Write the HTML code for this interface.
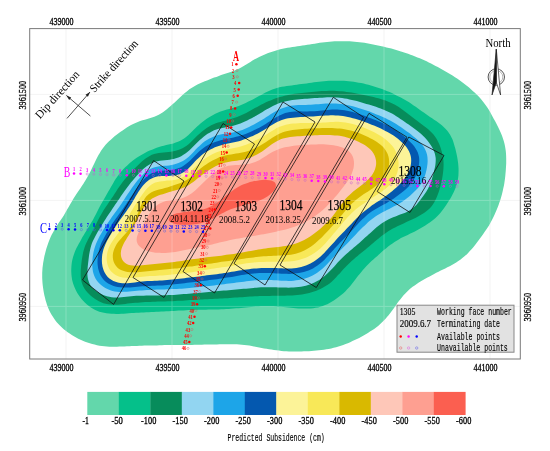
<!DOCTYPE html>
<html><head><meta charset="utf-8"><title>Predicted Subsidence</title>
<style>html,body{margin:0;padding:0;background:#fff}svg{display:block}.s{font-family:"Liberation Serif",serif}.m{font-family:"Liberation Mono",monospace}</style></head><body>
<svg width="550" height="451" viewBox="0 0 550 451">
<rect width="550" height="451" fill="#fff"/>
<g stroke="#f1f1f1" stroke-width="1">
<line x1="66" y1="29" x2="66" y2="359"/>
<line x1="172" y1="29" x2="172" y2="359"/>
<line x1="278" y1="29" x2="278" y2="359"/>
<line x1="384" y1="29" x2="384" y2="359"/>
<line x1="490" y1="29" x2="490" y2="359"/>
<line x1="30" y1="94.4" x2="520" y2="94.4"/>
<line x1="30" y1="200.4" x2="520" y2="200.4"/>
<line x1="30" y1="306.4" x2="520" y2="306.4"/>
</g>
<defs><clipPath id="cp"><rect x="30" y="29" width="490" height="330"/></clipPath></defs>
<g clip-path="url(#cp)">
<path d="M42.2 273.1C42.3 271.4 42.4 269.8 42.5 268.1C42.7 266.5 42.9 264.8 43.1 263.2C43.4 261.5 43.7 259.9 44 258.3C44.3 256.6 44.7 255 45.1 253.4C45.5 251.8 45.9 250.2 46.4 248.6C46.9 247 47.4 245.4 48 243.8C48.5 242.3 49.1 240.7 49.7 239.2C50.4 237.6 51.1 236.1 51.8 234.6C52.6 233.2 53.4 231.7 54.2 230.3C55 228.8 55.9 227.4 56.8 226C57.7 224.6 58.6 223.2 59.5 221.8C60.5 220.5 61.4 219.1 62.3 217.7C63.2 216.3 64.1 214.9 64.9 213.4C65.8 212 66.6 210.6 67.4 209.1C68.3 207.7 69.1 206.2 69.9 204.8C70.7 203.3 71.5 201.9 72.4 200.4C73.3 199 74.1 197.6 75 196.2C76 194.8 76.9 193.4 77.8 192C78.7 190.7 79.7 189.3 80.6 187.9C81.5 186.5 82.5 185.1 83.4 183.7C84.3 182.3 85.2 180.9 86 179.5C86.9 178 87.7 176.6 88.5 175.1C89.3 173.7 90 172.2 90.8 170.7C91.5 169.2 92.2 167.7 92.9 166.2C93.7 164.7 94.4 163.2 95.1 161.7C95.8 160.2 96.5 158.7 97.3 157.2C98.1 155.7 98.9 154.3 99.8 152.9C100.6 151.5 101.5 150.1 102.5 148.7C103.5 147.4 104.5 146.1 105.6 144.8C106.7 143.6 107.8 142.4 109 141.2C110.2 140.1 111.4 139 112.7 137.9C113.9 136.8 115.2 135.8 116.6 134.8C117.9 133.7 119.2 132.7 120.6 131.8C121.9 130.8 123.3 129.8 124.7 128.9C126.1 128 127.5 127.1 128.9 126.3C130.3 125.4 131.8 124.6 133.2 123.9C134.7 123.2 136.2 122.5 137.8 121.9C139.3 121.3 140.9 120.8 142.5 120.3C144 119.8 145.7 119.4 147.2 118.9C148.8 118.5 150.4 118.1 152 117.5C153.5 117 155.1 116.5 156.6 115.8C158.1 115.1 159.5 114.3 160.9 113.5C162.3 112.6 163.6 111.7 164.9 110.7C166.2 109.7 167.5 108.6 168.8 107.5C170 106.5 171.3 105.4 172.5 104.2C173.8 103.1 175 102 176.2 100.9C177.4 99.7 178.6 98.6 179.9 97.4C181.1 96.3 182.3 95.2 183.6 94.1C184.8 93 186.1 92 187.4 90.9C188.7 89.9 190.1 89 191.5 88.1C192.9 87.2 194.3 86.4 195.7 85.6C197.2 84.8 198.7 84 200.2 83.3C201.7 82.6 203.2 82 204.8 81.3C206.3 80.6 207.8 80 209.4 79.4C211 78.8 212.5 78.2 214.1 77.6C215.6 77.1 217.2 76.5 218.8 75.9C220.4 75.4 221.9 74.9 223.5 74.3C225.1 73.8 226.7 73.3 228.3 72.8C229.8 72.3 231.4 71.8 233 71.2C234.5 70.6 236.1 70 237.6 69.3C239.1 68.6 240.5 67.9 242 67.1C243.4 66.3 244.8 65.4 246.2 64.5C247.6 63.7 249 62.7 250.4 61.9C251.8 61 253.2 60.1 254.7 59.3C256.1 58.5 257.6 57.7 259.1 56.9C260.6 56.2 262.1 55.5 263.6 54.9C265.1 54.2 266.7 53.6 268.2 53C269.8 52.4 271.4 51.9 273 51.4C274.6 50.8 276.1 50.4 277.8 49.9C279.4 49.5 281 49.1 282.6 48.7C284.2 48.4 285.9 48 287.5 47.7C289.1 47.4 290.8 47.2 292.4 46.9C294.1 46.7 295.7 46.5 297.4 46.2C299 46 300.7 45.8 302.3 45.5C304 45.3 305.6 45.1 307.3 44.8C308.9 44.5 310.6 44.3 312.2 44C313.9 43.7 315.5 43.5 317.2 43.2C318.8 43 320.5 42.7 322.1 42.5C323.8 42.3 325.4 42.1 327.1 42C328.7 41.8 330.4 41.7 332.1 41.5C333.7 41.4 335.4 41.3 337.1 41.3C338.7 41.2 340.4 41.2 342.1 41.2C343.7 41.2 345.4 41.2 347.1 41.2C348.7 41.3 350.4 41.3 352.1 41.5C353.7 41.6 355.4 41.7 357 41.9C358.7 42.1 360.3 42.3 362 42.5C363.6 42.7 365.3 43 366.9 43.3C368.6 43.6 370.2 43.9 371.9 44.2C373.5 44.5 375.1 44.9 376.8 45.2C378.4 45.6 380 45.9 381.6 46.3C383.3 46.7 384.9 47 386.5 47.4C388.1 47.8 389.8 48.2 391.4 48.6C393 49.1 394.6 49.5 396.2 50C397.8 50.5 399.4 50.9 401 51.5C402.6 52 404.1 52.5 405.7 53C407.3 53.5 408.9 54.1 410.5 54.7C412 55.2 413.6 55.8 415.1 56.4C416.7 57 418.2 57.6 419.8 58.3C421.3 58.9 422.8 59.6 424.3 60.3C425.9 61 427.4 61.7 428.8 62.5C430.3 63.2 431.8 64 433.3 64.7C434.8 65.5 436.3 66.3 437.8 67C439.2 67.8 440.7 68.6 442.1 69.5C443.6 70.3 445 71.1 446.5 72C447.9 72.8 449.3 73.7 450.8 74.5C452.2 75.4 453.6 76.3 455 77.2C456.4 78.1 457.8 79 459.2 80C460.5 80.9 461.9 81.9 463.2 82.9C464.5 83.9 465.8 84.9 467.1 86C468.4 87 469.7 88.1 470.9 89.2C472.2 90.3 473.4 91.4 474.6 92.6C475.8 93.7 477 94.9 478.2 96.1C479.3 97.3 480.4 98.6 481.5 99.8C482.6 101.1 483.6 102.4 484.6 103.7C485.6 105 486.6 106.4 487.5 107.8C488.4 109.2 489.2 110.6 490.1 112C490.9 113.5 491.7 114.9 492.5 116.4C493.3 117.8 494.1 119.3 494.9 120.8C495.7 122.3 496.5 123.7 497.2 125.2C498 126.7 498.7 128.2 499.4 129.7C500.1 131.2 500.8 132.7 501.4 134.3C502 135.8 502.6 137.4 503.1 139C503.6 140.5 504.1 142.1 504.5 143.7C504.9 145.3 505.2 147 505.4 148.6C505.7 150.2 505.9 151.9 506 153.5C506.1 155.2 506.2 156.8 506.2 158.5C506.2 160.2 506.2 161.8 506.2 163.5C506.1 165.2 506 166.8 505.9 168.5C505.8 170.2 505.7 171.8 505.5 173.5C505.4 175.1 505.2 176.8 505 178.5C504.8 180.1 504.5 181.8 504.3 183.4C504 185 503.7 186.7 503.3 188.3C503 189.9 502.6 191.6 502.2 193.2C501.8 194.8 501.3 196.4 500.9 198C500.4 199.6 499.9 201.2 499.3 202.7C498.8 204.3 498.2 205.9 497.6 207.4C497 209 496.4 210.5 495.7 212.1C495.1 213.6 494.4 215.1 493.7 216.6C493 218.1 492.2 219.6 491.4 221.1C490.6 222.5 489.8 224 489 225.4C488.1 226.8 487.2 228.2 486.3 229.6C485.4 231 484.4 232.4 483.4 233.7C482.5 235.1 481.5 236.4 480.5 237.8C479.5 239.1 478.5 240.5 477.5 241.8C476.5 243.1 475.5 244.5 474.5 245.8C473.4 247.1 472.4 248.3 471.3 249.6C470.2 250.8 469 252.1 467.9 253.2C466.7 254.4 465.5 255.5 464.2 256.6C463 257.7 461.7 258.7 460.3 259.7C459 260.6 457.6 261.5 456.2 262.4C454.8 263.3 453.3 264.1 451.9 264.9C450.4 265.7 448.9 266.5 447.4 267.2C446 268 444.5 268.7 443 269.5C441.5 270.2 440 271 438.5 271.8C437 272.5 435.5 273.3 434.1 274C432.6 274.8 431.1 275.6 429.6 276.4C428.2 277.1 426.7 277.9 425.2 278.8C423.8 279.6 422.3 280.4 420.9 281.3C419.5 282.1 418.1 283 416.7 283.9C415.3 284.9 414 285.8 412.6 286.8C411.3 287.8 410.1 288.9 408.8 290C407.6 291.1 406.4 292.3 405.3 293.5C404.1 294.7 403 295.9 402 297.2C400.9 298.5 399.9 299.8 398.9 301.1C397.9 302.5 396.9 303.8 396 305.2C395 306.5 394.1 307.9 393.1 309.3C392.1 310.6 391.1 312 390.1 313.3C389.1 314.6 388.1 315.9 387 317.1C385.9 318.4 384.8 319.6 383.6 320.8C382.4 322 381.2 323.1 380 324.2C378.7 325.3 377.5 326.4 376.1 327.4C374.8 328.4 373.5 329.4 372.1 330.3C370.7 331.2 369.3 332.1 367.9 333C366.5 333.9 365 334.7 363.6 335.5C362.1 336.3 360.6 337.1 359.2 337.9C357.7 338.6 356.2 339.4 354.7 340.1C353.2 340.8 351.7 341.5 350.2 342.2C348.6 342.9 347.1 343.5 345.6 344.1C344 344.7 342.4 345.3 340.9 345.8C339.3 346.4 337.7 346.8 336.1 347.3C334.5 347.7 332.9 348.1 331.2 348.4C329.6 348.8 328 349.1 326.3 349.3C324.7 349.6 323 349.8 321.4 350.1C319.7 350.3 318.1 350.5 316.4 350.6C314.7 350.8 313.1 350.9 311.4 351C309.8 351.2 308.1 351.3 306.4 351.3C304.8 351.4 303.1 351.4 301.4 351.5C299.8 351.5 298.1 351.5 296.4 351.5C294.8 351.5 293.1 351.5 291.4 351.4C289.8 351.4 288.1 351.3 286.4 351.2C284.8 351.1 283.1 351 281.4 350.9C279.8 350.7 278.1 350.5 276.5 350.3C274.8 350.1 273.2 349.9 271.5 349.6C269.9 349.4 268.2 349.1 266.6 348.8C264.9 348.5 263.3 348.2 261.7 347.9C260 347.6 258.4 347.3 256.7 347C255.1 346.7 253.5 346.4 251.8 346.1C250.2 345.8 248.5 345.5 246.9 345.3C245.2 345.1 243.6 344.8 241.9 344.7C240.3 344.5 238.6 344.4 236.9 344.3C235.3 344.2 233.6 344.2 232 344.2C230.3 344.1 228.6 344.1 227 344.2C225.3 344.2 223.6 344.2 221.9 344.3C220.3 344.3 218.6 344.3 216.9 344.4C215.3 344.4 213.6 344.5 211.9 344.5C210.3 344.6 208.6 344.6 206.9 344.6C205.3 344.7 203.6 344.7 201.9 344.8C200.3 344.8 198.6 344.8 196.9 344.8C195.3 344.9 193.6 344.9 191.9 344.9C190.2 344.9 188.6 345 186.9 345C185.2 345 183.6 345 181.9 345C180.2 345 178.6 345 176.9 345C175.2 345 173.6 345 171.9 345.1C170.2 345.1 168.6 345.1 166.9 345.1C165.2 345.2 163.5 345.2 161.9 345.3C160.2 345.3 158.5 345.3 156.9 345.4C155.2 345.4 153.5 345.5 151.9 345.5C150.2 345.6 148.5 345.6 146.9 345.6C145.2 345.7 143.5 345.7 141.9 345.8C140.2 345.8 138.5 345.9 136.9 345.9C135.2 346 133.5 346 131.8 346.1C130.2 346.2 128.5 346.3 126.9 346.3C125.2 346.4 123.5 346.5 121.9 346.6C120.2 346.7 118.5 346.7 116.9 346.8C115.2 346.8 113.5 346.8 111.9 346.8C110.2 346.8 108.5 346.7 106.9 346.6C105.2 346.5 103.6 346.3 101.9 346.1C100.3 345.9 98.7 345.6 97 345.2C95.4 344.9 93.8 344.5 92.2 344.1C90.6 343.6 89 343.1 87.4 342.6C85.9 342 84.3 341.4 82.8 340.8C81.3 340.1 79.8 339.4 78.3 338.7C76.8 337.9 75.3 337.1 73.9 336.3C72.5 335.4 71.1 334.6 69.7 333.6C68.3 332.7 67 331.7 65.7 330.7C64.4 329.7 63.1 328.6 61.9 327.5C60.7 326.4 59.5 325.2 58.4 324C57.3 322.8 56.2 321.5 55.2 320.2C54.2 318.9 53.2 317.5 52.4 316.1C51.5 314.7 50.7 313.3 49.9 311.8C49.2 310.4 48.5 308.8 47.9 307.3C47.3 305.8 46.8 304.2 46.3 302.6C45.8 301 45.3 299.4 45 297.8C44.6 296.2 44.2 294.6 43.9 292.9C43.6 291.3 43.3 289.7 43.1 288C42.8 286.4 42.7 284.7 42.5 283C42.4 281.4 42.3 279.7 42.2 278.1C42.2 276.4 42.2 274.8 42.2 273.1Z" fill="#63D7AB"/>
<path d="M71.9 262.1C72.2 260.5 72.5 258.9 73 257.3C73.4 255.8 73.9 254.2 74.5 252.7C75.1 251.1 75.8 249.6 76.5 248.1C77.2 246.7 78 245.2 78.8 243.7C79.6 242.3 80.4 240.8 81.2 239.4C82.1 237.9 82.9 236.5 83.8 235.1C84.7 233.6 85.5 232.2 86.4 230.8C87.3 229.4 88.2 228 89 226.6C89.9 225.1 90.7 223.7 91.5 222.3C92.4 220.8 93.2 219.4 93.9 217.9C94.7 216.4 95.5 214.9 96.3 213.5C97 212 97.8 210.5 98.5 209C99.3 207.5 100.1 206.1 100.9 204.6C101.7 203.1 102.5 201.7 103.3 200.2C104.1 198.8 105 197.4 105.8 195.9C106.6 194.5 107.5 193.1 108.3 191.6C109.2 190.2 110 188.7 110.8 187.3C111.6 185.9 112.4 184.4 113.3 183C114.1 181.5 114.9 180.1 115.8 178.7C116.7 177.4 117.7 176 118.7 174.7C119.7 173.4 120.7 172.1 121.8 170.9C122.9 169.7 124.1 168.5 125.2 167.3C126.4 166.1 127.6 165 128.8 163.9C130.1 162.8 131.3 161.7 132.6 160.7C133.9 159.7 135.3 158.7 136.7 157.8C138 156.9 139.5 156 140.9 155.2C142.3 154.3 143.8 153.5 145.3 152.8C146.7 152 148.2 151.3 149.7 150.6C151.3 149.9 152.8 149.3 154.3 148.7C155.9 148.1 157.5 147.6 159 147.1C160.6 146.6 162.2 146.2 163.8 145.8C165.4 145.4 167 145 168.6 144.6C170.2 144.2 171.9 143.8 173.4 143.4C175 142.9 176.5 142.4 178 141.8C179.5 141.1 181 140.4 182.4 139.6C183.8 138.8 185.1 137.8 186.4 136.8C187.6 135.8 188.8 134.6 190 133.5C191.2 132.4 192.4 131.2 193.5 130C194.7 128.8 195.9 127.7 197.1 126.5C198.3 125.4 199.5 124.3 200.8 123.2C202.1 122.2 203.4 121.1 204.7 120.2C206 119.2 207.4 118.2 208.8 117.4C210.2 116.5 211.6 115.6 213.1 114.9C214.6 114.1 216 113.4 217.6 112.8C219.1 112.1 220.6 111.6 222.2 111C223.8 110.5 225.3 110.1 226.9 109.6C228.5 109.1 230.1 108.7 231.7 108.2C233.3 107.7 234.9 107.3 236.5 106.7C238 106.2 239.6 105.6 241.1 105C242.6 104.3 244.2 103.7 245.7 103C247.2 102.3 248.7 101.5 250.1 100.8C251.6 100 253.1 99.2 254.6 98.4C256 97.7 257.5 96.8 259 96C260.4 95.3 261.9 94.4 263.3 93.7C264.8 92.9 266.3 92.1 267.8 91.4C269.3 90.7 270.8 90.1 272.3 89.5C273.9 88.9 275.5 88.4 277 88C278.6 87.5 280.2 87.2 281.9 86.8C283.5 86.5 285.1 86.3 286.8 86C288.4 85.8 290.1 85.6 291.7 85.4C293.4 85.1 295 85 296.7 84.8C298.3 84.5 300 84.3 301.6 84.1C303.3 83.9 304.9 83.7 306.6 83.5C308.2 83.2 309.9 83 311.5 82.8C313.2 82.5 314.8 82.3 316.5 82.1C318.1 81.9 319.8 81.7 321.4 81.5C323.1 81.3 324.8 81.2 326.4 81.1C328.1 80.9 329.7 80.8 331.4 80.8C333.1 80.7 334.7 80.7 336.4 80.7C338 80.7 339.7 80.7 341.4 80.8C343 80.8 344.7 80.9 346.3 81C348 81.2 349.7 81.3 351.3 81.5C353 81.7 354.6 81.9 356.2 82.2C357.9 82.5 359.5 82.8 361.2 83.1C362.8 83.4 364.4 83.8 366 84.2C367.6 84.6 369.3 85 370.9 85.5C372.5 85.9 374.1 86.4 375.6 86.9C377.2 87.4 378.8 87.9 380.4 88.5C381.9 89 383.5 89.6 385 90.2C386.6 90.8 388.1 91.5 389.6 92.1C391.2 92.8 392.7 93.5 394.2 94.2C395.7 95 397.2 95.7 398.6 96.5C400.1 97.2 401.6 98 403 98.8C404.5 99.6 405.9 100.5 407.4 101.3C408.8 102.2 410.2 103.1 411.6 104C413 104.9 414.3 105.9 415.7 106.8C417 107.8 418.4 108.7 419.7 109.7C421.1 110.7 422.5 111.6 423.8 112.6C425.2 113.6 426.5 114.5 427.9 115.4C429.3 116.4 430.7 117.3 432.1 118.2C433.4 119.2 434.8 120.1 436.2 121.1C437.5 122 438.9 123 440.2 124C441.5 125 442.7 126.1 443.9 127.2C445.1 128.3 446.3 129.5 447.3 130.8C448.3 132 449.2 133.4 450.1 134.7C450.9 136.1 451.6 137.6 452.3 139.1C452.9 140.6 453.4 142.1 453.9 143.7C454.4 145.3 454.8 146.9 455.3 148.5C455.7 150.1 456.1 151.7 456.4 153.3C456.8 155 457.1 156.6 457.4 158.2C457.7 159.8 457.9 161.5 458.1 163.1C458.3 164.8 458.4 166.4 458.5 168.1C458.6 169.7 458.6 171.4 458.5 173C458.5 174.7 458.4 176.3 458.1 177.9C457.9 179.6 457.6 181.2 457.2 182.8C456.8 184.3 456.3 185.9 455.7 187.4C455.1 189 454.5 190.5 453.8 192C453 193.5 452.3 194.9 451.5 196.4C450.7 197.8 449.8 199.3 448.9 200.7C448.1 202.1 447.2 203.5 446.2 204.9C445.3 206.3 444.4 207.6 443.4 209C442.4 210.3 441.4 211.6 440.3 212.9C439.3 214.1 438.2 215.3 437 216.5C435.8 217.7 434.6 218.7 433.4 219.8C432.1 220.8 430.8 221.8 429.4 222.8C428.1 223.7 426.7 224.6 425.3 225.5C423.9 226.4 422.4 227.2 421 228C419.5 228.9 418.1 229.6 416.6 230.4C415.1 231.2 413.6 231.9 412.1 232.7C410.7 233.4 409.1 234.1 407.7 234.9C406.2 235.6 404.7 236.3 403.2 237.1C401.7 237.8 400.2 238.6 398.8 239.4C397.4 240.3 395.9 241.1 394.5 242C393.2 242.9 391.8 243.9 390.5 244.8C389.1 245.8 387.8 246.9 386.5 247.9C385.2 248.9 384 250 382.7 251.1C381.5 252.2 380.2 253.3 378.9 254.4C377.7 255.5 376.5 256.6 375.2 257.7C374 258.8 372.7 259.9 371.5 261.1C370.3 262.2 369.1 263.4 368 264.6C366.8 265.7 365.7 267 364.5 268.2C363.4 269.4 362.3 270.7 361.3 271.9C360.2 273.2 359.1 274.5 358.1 275.8C357.1 277.1 356.1 278.5 355.1 279.8C354.1 281.1 353.1 282.4 352 283.7C351 285 350 286.3 348.9 287.6C347.8 288.8 346.6 290 345.5 291.2C344.3 292.3 343.1 293.4 341.8 294.5C340.5 295.6 339.2 296.6 337.9 297.6C336.6 298.6 335.2 299.5 333.8 300.4C332.4 301.3 331 302.1 329.5 302.9C328.1 303.7 326.6 304.4 325.1 305C323.6 305.7 322 306.2 320.4 306.7C318.9 307.2 317.3 307.5 315.6 307.8C314 308.1 312.4 308.3 310.7 308.4C309.1 308.6 307.4 308.6 305.8 308.6C304.1 308.6 302.5 308.6 300.8 308.5C299.2 308.4 297.5 308.3 295.8 308.2C294.2 308.1 292.5 307.9 290.9 307.7C289.2 307.6 287.5 307.4 285.9 307.2C284.2 307.1 282.6 306.9 280.9 306.8C279.3 306.6 277.6 306.5 275.9 306.4C274.3 306.3 272.6 306.3 271 306.2C269.3 306.2 267.6 306.2 266 306.2C264.3 306.2 262.6 306.2 261 306.3C259.3 306.4 257.6 306.5 256 306.6C254.3 306.7 252.7 306.8 251 307C249.3 307.1 247.7 307.3 246 307.4C244.4 307.6 242.7 307.7 241.1 307.9C239.4 308 237.7 308.2 236.1 308.3C234.4 308.5 232.8 308.6 231.1 308.7C229.4 308.8 227.8 308.9 226.1 309C224.5 309.1 222.8 309.2 221.1 309.2C219.5 309.3 217.8 309.4 216.1 309.4C214.5 309.5 212.8 309.5 211.1 309.5C209.5 309.6 207.8 309.6 206.1 309.7C204.5 309.7 202.8 309.7 201.1 309.8C199.5 309.8 197.8 309.9 196.1 309.9C194.5 309.9 192.8 310 191.1 310.1C189.5 310.1 187.8 310.2 186.2 310.2C184.5 310.3 182.8 310.4 181.2 310.5C179.5 310.5 177.8 310.6 176.2 310.7C174.5 310.8 172.8 310.9 171.2 310.9C169.5 311 167.9 311.1 166.2 311.2C164.5 311.3 162.9 311.4 161.2 311.4C159.5 311.5 157.9 311.6 156.2 311.7C154.5 311.8 152.9 311.9 151.2 311.9C149.6 312 147.9 312.1 146.2 312.2C144.6 312.3 142.9 312.4 141.2 312.4C139.6 312.5 137.9 312.6 136.2 312.7C134.6 312.8 132.9 312.9 131.3 313C129.6 313.2 127.9 313.3 126.3 313.4C124.6 313.5 123 313.6 121.3 313.7C119.6 313.8 118 313.9 116.3 313.9C114.7 313.9 113 313.9 111.4 313.8C109.7 313.7 108.1 313.6 106.4 313.3C104.8 313.1 103.2 312.8 101.6 312.3C100.1 311.9 98.5 311.4 97 310.7C95.5 310.1 94 309.4 92.6 308.6C91.2 307.7 89.9 306.8 88.6 305.8C87.3 304.9 86 303.8 84.8 302.6C83.7 301.5 82.5 300.3 81.5 299C80.5 297.8 79.5 296.4 78.6 295.1C77.7 293.7 76.9 292.3 76.1 290.8C75.4 289.4 74.7 287.8 74.1 286.3C73.5 284.8 73 283.2 72.6 281.7C72.2 280.1 71.9 278.5 71.7 276.9C71.5 275.2 71.3 273.6 71.3 272C71.2 270.3 71.3 268.7 71.4 267C71.5 265.4 71.6 263.8 71.9 262.1Z" fill="#05C08A"/>
<path d="M83.3 286.4C82.6 285 82 283.5 81.6 282C81.2 280.4 81 278.8 80.8 277.2C80.7 275.6 80.7 274 80.7 272.3C80.7 270.7 80.9 269 81 267.4C81.1 265.7 81.3 264.1 81.5 262.4C81.7 260.8 81.9 259.1 82.2 257.5C82.5 255.9 82.8 254.2 83.1 252.6C83.5 251 83.9 249.4 84.4 247.9C84.9 246.3 85.5 244.8 86.2 243.3C86.8 241.8 87.6 240.3 88.3 238.9C89.1 237.4 89.9 236 90.7 234.5C91.5 233 92.3 231.6 93.1 230.1C93.8 228.7 94.6 227.2 95.3 225.7C96 224.2 96.8 222.7 97.5 221.2C98.2 219.8 99 218.3 99.8 216.8C100.6 215.4 101.4 213.9 102.3 212.5C103.1 211.1 104 209.7 104.9 208.3C105.8 206.9 106.7 205.5 107.7 204.2C108.6 202.8 109.6 201.4 110.5 200C111.4 198.7 112.3 197.3 113.3 195.9C114.2 194.5 115.1 193.1 116 191.7C116.9 190.4 117.8 189 118.7 187.6C119.7 186.2 120.6 184.8 121.6 183.5C122.5 182.1 123.5 180.8 124.6 179.5C125.6 178.2 126.7 177 127.7 175.7C128.8 174.5 130 173.3 131.1 172C132.3 170.8 133.4 169.7 134.6 168.5C135.8 167.3 137 166.1 138.2 165C139.4 163.9 140.6 162.7 141.8 161.6C143.1 160.6 144.3 159.5 145.6 158.6C146.9 157.6 148.3 156.7 149.7 156C151.1 155.2 152.6 154.6 154.1 154.1C155.6 153.6 157.2 153.3 158.8 153C160.3 152.7 162 152.6 163.6 152.5C165.2 152.3 166.9 152.2 168.5 152C170.1 151.8 171.8 151.6 173.4 151.3C175 151 176.5 150.6 178.1 150.1C179.6 149.6 181.1 148.9 182.5 148.2C184 147.5 185.3 146.6 186.6 145.7C188 144.7 189.2 143.6 190.4 142.5C191.6 141.4 192.8 140.2 193.9 139.1C195.1 137.9 196.2 136.7 197.4 135.6C198.6 134.4 199.8 133.3 201.1 132.2C202.3 131.2 203.6 130.1 205 129.2C206.3 128.2 207.7 127.3 209.1 126.5C210.5 125.7 212 125 213.5 124.3C215 123.7 216.6 123.1 218.1 122.6C219.7 122.1 221.3 121.6 222.9 121.2C224.5 120.8 226.1 120.4 227.7 119.9C229.3 119.5 230.9 119.1 232.4 118.6C234 118.1 235.6 117.6 237.1 117C238.7 116.4 240.2 115.7 241.7 115C243.2 114.4 244.7 113.6 246.2 112.9C247.6 112.1 249.1 111.3 250.6 110.5C252 109.7 253.5 108.9 254.9 108.1C256.4 107.3 257.9 106.5 259.3 105.7C260.8 105 262.3 104.2 263.7 103.5C265.2 102.7 266.7 102 268.2 101.3C269.8 100.6 271.3 100 272.8 99.4C274.4 98.8 275.9 98.3 277.5 97.7C279.1 97.2 280.7 96.8 282.3 96.4C283.9 96 285.5 95.6 287.1 95.3C288.8 94.9 290.4 94.6 292 94.3C293.7 94.1 295.3 93.8 297 93.6C298.6 93.3 300.2 93.1 301.9 92.9C303.5 92.7 305.2 92.5 306.9 92.4C308.5 92.2 310.2 92 311.8 91.9C313.5 91.7 315.1 91.5 316.8 91.4C318.4 91.3 320.1 91.2 321.8 91.1C323.4 91 325.1 90.9 326.7 90.9C328.4 90.8 330.1 90.8 331.7 90.8C333.4 90.9 335 90.9 336.7 91C338.4 91.1 340 91.2 341.7 91.3C343.3 91.5 345 91.7 346.6 91.9C348.3 92 349.9 92.3 351.6 92.5C353.2 92.8 354.8 93.1 356.5 93.4C358.1 93.7 359.7 94 361.4 94.4C363 94.7 364.6 95.1 366.2 95.4C367.8 95.8 369.5 96.2 371.1 96.6C372.7 97 374.3 97.4 375.9 97.8C377.5 98.2 379.1 98.6 380.7 99.1C382.3 99.6 383.9 100.1 385.5 100.6C387 101.2 388.6 101.8 390.1 102.4C391.6 103.1 393 103.8 394.5 104.6C395.9 105.4 397.4 106.3 398.8 107.1C400.1 108 401.5 109 402.9 109.9C404.2 110.9 405.5 111.9 406.9 112.9C408.2 113.9 409.5 114.9 410.8 115.9C412.1 117 413.4 118 414.7 119C416 120 417.4 121.1 418.7 122.1C420 123.1 421.3 124.1 422.6 125.1C424 126.1 425.3 127.1 426.6 128.1C427.9 129.2 429.1 130.2 430.3 131.3C431.5 132.4 432.7 133.6 433.7 134.8C434.7 136.1 435.6 137.4 436.5 138.8C437.3 140.2 438.1 141.7 438.7 143.1C439.4 144.6 440 146.2 440.6 147.7C441.1 149.3 441.6 150.9 442 152.4C442.4 154 442.8 155.6 443 157.3C443.3 158.9 443.5 160.5 443.5 162.1C443.6 163.8 443.6 165.4 443.5 167.1C443.5 168.7 443.3 170.3 443.1 172C442.9 173.6 442.7 175.3 442.4 176.9C442.2 178.5 441.8 180.2 441.5 181.8C441.1 183.4 440.7 185 440.3 186.6C439.9 188.2 439.4 189.8 438.9 191.4C438.4 193 437.8 194.5 437.2 196C436.6 197.6 436 199.1 435.2 200.5C434.4 202 433.6 203.4 432.7 204.7C431.8 206 430.7 207.2 429.6 208.4C428.5 209.5 427.2 210.5 426 211.5C424.7 212.5 423.3 213.4 421.9 214.3C420.5 215.1 419 215.9 417.6 216.7C416.1 217.5 414.6 218.2 413.1 219C411.6 219.7 410.1 220.4 408.6 221.1C407.1 221.8 405.6 222.5 404.1 223.2C402.6 223.9 401.1 224.6 399.6 225.3C398.1 226 396.6 226.7 395.1 227.4C393.6 228.1 392.1 228.9 390.7 229.7C389.3 230.6 387.9 231.5 386.5 232.4C385.2 233.3 383.8 234.3 382.5 235.3C381.2 236.3 379.9 237.4 378.6 238.4C377.3 239.5 376.1 240.5 374.8 241.6C373.5 242.7 372.3 243.8 371 244.8C369.7 245.9 368.5 247 367.2 248C365.9 249.1 364.6 250.2 363.3 251.2C362 252.3 360.7 253.3 359.5 254.3C358.2 255.4 356.9 256.5 355.6 257.5C354.4 258.6 353.1 259.7 351.9 260.8C350.7 261.9 349.5 263.1 348.3 264.3C347.1 265.4 345.9 266.6 344.8 267.8C343.6 269 342.5 270.2 341.4 271.4C340.3 272.7 339.2 273.9 338 275.1C336.9 276.4 335.8 277.6 334.7 278.8C333.5 279.9 332.4 281.1 331.1 282.2C329.9 283.2 328.6 284.2 327.3 285.1C325.9 286 324.5 286.9 323.1 287.6C321.6 288.4 320.1 289.1 318.6 289.7C317.1 290.4 315.5 290.9 314 291.5C312.4 292 310.8 292.5 309.2 292.9C307.6 293.3 306 293.7 304.4 294C302.8 294.4 301.1 294.6 299.5 294.8C297.9 295.1 296.2 295.2 294.5 295.3C292.9 295.5 291.2 295.6 289.6 295.6C287.9 295.7 286.3 295.7 284.6 295.8C282.9 295.8 281.3 295.8 279.6 295.8C277.9 295.8 276.3 295.8 274.6 295.8C273 295.8 271.3 295.8 269.6 295.9C268 295.9 266.3 295.9 264.6 296C263 296 261.3 296 259.7 296.1C258 296.2 256.3 296.3 254.7 296.3C253 296.4 251.4 296.5 249.7 296.6C248 296.7 246.4 296.8 244.7 296.9C243.1 297 241.4 297.1 239.7 297.2C238.1 297.3 236.4 297.4 234.8 297.5C233.1 297.6 231.4 297.7 229.8 297.9C228.1 298 226.5 298.1 224.8 298.2C223.1 298.3 221.5 298.4 219.8 298.5C218.2 298.6 216.5 298.7 214.8 298.7C213.2 298.8 211.5 298.9 209.9 299C208.2 299.1 206.5 299.2 204.9 299.3C203.2 299.4 201.6 299.5 199.9 299.6C198.2 299.7 196.6 299.8 194.9 299.8C193.2 299.9 191.6 300 189.9 300.1C188.3 300.2 186.6 300.3 184.9 300.4C183.3 300.5 181.6 300.6 180 300.7C178.3 300.8 176.6 300.8 175 300.9C173.3 301 171.7 301.1 170 301.2C168.3 301.2 166.7 301.3 165 301.4C163.3 301.4 161.7 301.5 160 301.6C158.4 301.6 156.7 301.7 155 301.7C153.4 301.8 151.7 301.8 150.1 301.9C148.4 302 146.7 302 145.1 302.1C143.4 302.2 141.7 302.3 140.1 302.4C138.4 302.5 136.8 302.6 135.1 302.8C133.5 302.9 131.8 303.1 130.2 303.3C128.5 303.5 126.9 303.7 125.2 303.9C123.6 304.1 121.9 304.3 120.3 304.5C118.6 304.6 117 304.8 115.4 304.8C113.7 304.8 112.1 304.8 110.5 304.6C108.9 304.5 107.3 304.2 105.7 303.8C104.1 303.4 102.6 302.9 101.1 302.2C99.6 301.6 98.2 300.8 96.8 300C95.4 299.2 94 298.3 92.7 297.3C91.4 296.3 90.1 295.2 89 294.1C87.8 292.9 86.7 291.7 85.8 290.5C84.8 289.2 84 287.8 83.3 286.4Z" fill="#078C5B"/>
<path d="M92.4 287.7C91.3 286.5 90.4 285.2 89.7 283.9C89 282.5 88.5 281 88.1 279.5C87.7 278 87.5 276.4 87.4 274.8C87.3 273.2 87.4 271.6 87.5 269.9C87.6 268.3 87.7 266.6 87.9 265C88.1 263.3 88.3 261.7 88.5 260C88.7 258.4 88.9 256.7 89.1 255.1C89.4 253.4 89.6 251.8 90 250.2C90.3 248.6 90.7 247 91.2 245.4C91.7 243.9 92.3 242.3 93 240.8C93.7 239.3 94.4 237.8 95.2 236.4C96 234.9 96.8 233.5 97.6 232C98.5 230.6 99.3 229.2 100.2 227.7C101 226.3 101.9 224.9 102.8 223.5C103.7 222 104.6 220.6 105.5 219.2C106.4 217.8 107.3 216.4 108.2 215C109.1 213.6 110.1 212.3 111 210.9C111.9 209.5 112.9 208.1 113.8 206.7C114.8 205.4 115.7 204 116.7 202.6C117.6 201.2 118.5 199.9 119.5 198.5C120.4 197.1 121.3 195.7 122.3 194.3C123.2 193 124.2 191.6 125.1 190.2C126.1 188.9 127.1 187.5 128.1 186.2C129.1 184.9 130.1 183.5 131.1 182.2C132.2 181 133.3 179.7 134.4 178.4C135.5 177.2 136.6 175.9 137.7 174.7C138.8 173.5 140 172.3 141.2 171.1C142.3 170 143.5 168.8 144.8 167.8C146 166.7 147.3 165.7 148.7 164.9C150 164 151.4 163.3 152.9 162.7C154.4 162.1 155.9 161.6 157.5 161.3C159 160.9 160.7 160.8 162.3 160.5C163.9 160.3 165.6 160.2 167.2 160C168.8 159.8 170.4 159.6 172 159.3C173.6 159 175.2 158.6 176.8 158.1C178.3 157.5 179.8 156.9 181.2 156.2C182.7 155.4 184.1 154.5 185.4 153.6C186.7 152.7 188 151.6 189.2 150.5C190.4 149.4 191.6 148.2 192.7 147C193.9 145.9 195 144.6 196.2 143.5C197.4 142.3 198.6 141.1 199.8 140C201 138.9 202.3 137.8 203.6 136.7C204.9 135.7 206.2 134.7 207.6 133.8C209 133 210.4 132.2 211.8 131.4C213.3 130.7 214.8 130.1 216.4 129.6C217.9 129.1 219.5 128.7 221.1 128.3C222.7 127.9 224.4 127.7 226 127.3C227.6 127 229.3 126.7 230.9 126.3C232.5 125.9 234.1 125.5 235.7 125C237.2 124.5 238.8 124 240.4 123.4C241.9 122.8 243.4 122.1 244.9 121.4C246.4 120.7 247.9 120 249.4 119.2C250.9 118.5 252.4 117.7 253.8 116.9C255.3 116.1 256.7 115.2 258.2 114.4C259.6 113.6 261.1 112.7 262.5 111.9C263.9 111 265.3 110.1 266.8 109.3C268.2 108.5 269.7 107.6 271.1 106.9C272.6 106.1 274.1 105.3 275.6 104.7C277.1 104 278.6 103.4 280.2 102.8C281.8 102.3 283.3 101.8 284.9 101.4C286.6 101 288.2 100.7 289.8 100.4C291.4 100.1 293.1 99.9 294.8 99.7C296.4 99.5 298.1 99.3 299.7 99.2C301.4 99 303 98.9 304.7 98.8C306.4 98.7 308 98.5 309.7 98.4C311.4 98.3 313 98.2 314.7 98C316.4 97.9 318 97.8 319.7 97.7C321.4 97.6 323 97.5 324.7 97.4C326.3 97.4 328 97.3 329.7 97.3C331.3 97.3 333 97.4 334.7 97.5C336.3 97.5 338 97.7 339.7 97.8C341.3 98 343 98.2 344.6 98.5C346.2 98.7 347.9 99 349.5 99.4C351.1 99.7 352.8 100.1 354.4 100.5C356 100.9 357.6 101.3 359.2 101.8C360.8 102.2 362.4 102.7 364 103.2C365.6 103.6 367.2 104.1 368.8 104.6C370.4 105.1 372 105.6 373.6 106.1C375.2 106.6 376.8 107.1 378.3 107.7C379.9 108.2 381.5 108.8 383 109.4C384.6 110 386.1 110.7 387.6 111.4C389.1 112.1 390.6 112.8 392 113.6C393.5 114.4 394.9 115.3 396.3 116.2C397.7 117.1 399.1 118 400.4 119C401.8 119.9 403.2 120.8 404.6 121.8C405.9 122.7 407.3 123.7 408.7 124.6C410 125.6 411.4 126.5 412.8 127.5C414.1 128.5 415.5 129.5 416.8 130.5C418.1 131.5 419.4 132.6 420.6 133.6C421.9 134.7 423.1 135.9 424.3 137C425.4 138.2 426.5 139.5 427.6 140.7C428.6 142 429.6 143.3 430.5 144.7C431.4 146.1 432.3 147.5 433 148.9C433.7 150.4 434.3 151.9 434.8 153.4C435.2 154.9 435.5 156.5 435.7 158C435.8 159.6 435.7 161.2 435.6 162.8C435.5 164.4 435.2 166 434.9 167.6C434.5 169.2 434.1 170.9 433.7 172.5C433.3 174.1 432.9 175.7 432.4 177.3C432 178.9 431.5 180.5 430.9 182C430.4 183.6 429.8 185.1 429.1 186.6C428.4 188.1 427.6 189.5 426.7 190.9C425.9 192.3 424.9 193.7 424 195.1C423 196.4 422 197.8 421 199.1C420 200.4 419 201.7 417.9 202.9C416.9 204.2 415.8 205.4 414.6 206.5C413.4 207.6 412.2 208.7 411 209.6C409.7 210.5 408.3 211.3 406.9 212C405.5 212.7 403.9 213.2 402.4 213.8C400.9 214.4 399.3 214.9 397.8 215.4C396.2 216 394.7 216.6 393.2 217.2C391.6 217.9 390.1 218.6 388.7 219.3C387.2 220.1 385.8 220.9 384.3 221.8C382.9 222.6 381.6 223.6 380.2 224.6C378.9 225.5 377.6 226.6 376.3 227.6C375 228.7 373.8 229.8 372.5 230.9C371.3 232 370 233.1 368.8 234.2C367.6 235.4 366.4 236.5 365.1 237.6C363.9 238.8 362.7 239.9 361.4 241C360.2 242.1 358.9 243.2 357.7 244.3C356.4 245.4 355.1 246.5 353.8 247.5C352.6 248.6 351.3 249.7 350 250.8C348.8 251.9 347.5 253 346.3 254.1C345.1 255.2 343.8 256.4 342.6 257.5C341.5 258.7 340.3 259.9 339.1 261.1C338 262.3 336.9 263.5 335.8 264.7C334.6 266 333.5 267.2 332.4 268.4C331.2 269.6 330.1 270.8 328.9 272C327.7 273.2 326.5 274.3 325.2 275.4C324 276.4 322.7 277.5 321.3 278.4C320 279.4 318.6 280.3 317.2 281.1C315.7 281.9 314.3 282.7 312.8 283.3C311.3 284 309.7 284.6 308.1 285.1C306.6 285.6 305 286 303.4 286.3C301.8 286.7 300.1 286.9 298.5 287.1C296.8 287.4 295.2 287.5 293.5 287.6C291.9 287.7 290.2 287.7 288.5 287.7C286.9 287.7 285.2 287.7 283.5 287.6C281.9 287.6 280.2 287.5 278.5 287.5C276.9 287.4 275.2 287.4 273.5 287.3C271.9 287.3 270.2 287.3 268.5 287.3C266.9 287.3 265.2 287.3 263.5 287.3C261.9 287.4 260.2 287.4 258.5 287.5C256.9 287.6 255.2 287.8 253.5 287.9C251.9 288 250.2 288.2 248.6 288.4C246.9 288.5 245.2 288.7 243.6 288.8C241.9 289 240.3 289.2 238.6 289.3C236.9 289.5 235.3 289.6 233.6 289.7C231.9 289.9 230.3 290 228.6 290.2C227 290.3 225.3 290.5 223.6 290.6C222 290.8 220.3 290.9 218.7 291.1C217 291.3 215.3 291.4 213.7 291.6C212 291.7 210.3 291.9 208.7 292C207 292.2 205.4 292.3 203.7 292.5C202 292.6 200.4 292.8 198.7 292.9C197 293.1 195.4 293.2 193.7 293.3C192.1 293.5 190.4 293.6 188.7 293.7C187.1 293.9 185.4 294 183.7 294.1C182.1 294.3 180.4 294.4 178.7 294.5C177.1 294.6 175.4 294.8 173.7 294.9C172.1 295 170.4 295.1 168.7 295.1C167.1 295.2 165.4 295.3 163.7 295.3C162.1 295.4 160.4 295.4 158.7 295.5C157.1 295.5 155.4 295.6 153.7 295.6C152.1 295.6 150.4 295.6 148.7 295.6C147.1 295.6 145.4 295.6 143.7 295.7C142.1 295.7 140.4 295.7 138.7 295.8C137.1 295.9 135.4 295.9 133.7 296.1C132.1 296.2 130.4 296.4 128.8 296.5C127.1 296.7 125.5 296.9 123.8 297.1C122.2 297.2 120.5 297.4 118.9 297.5C117.2 297.6 115.6 297.6 114 297.5C112.4 297.3 110.7 297.1 109.2 296.8C107.6 296.4 106 296 104.5 295.4C103 294.8 101.5 294.1 100 293.4C98.6 292.6 97.2 291.8 95.9 290.8C94.6 289.9 93.4 288.8 92.4 287.7Z" fill="#92D5F1"/>
<path d="M105.8 288.2C104.4 287.4 103 286.6 101.7 285.6C100.5 284.6 99.3 283.5 98.2 282.3C97.2 281.1 96.3 279.8 95.5 278.4C94.7 277 94.1 275.6 93.6 274C93.1 272.5 92.8 270.9 92.6 269.3C92.4 267.7 92.3 266.1 92.3 264.4C92.2 262.8 92.3 261.2 92.5 259.5C92.6 257.9 92.8 256.2 93.1 254.6C93.4 253 93.7 251.3 94.1 249.8C94.5 248.2 95 246.6 95.6 245C96.1 243.5 96.8 242 97.5 240.5C98.2 239 99 237.5 99.7 236.1C100.5 234.6 101.4 233.2 102.2 231.7C103.1 230.3 103.9 228.9 104.8 227.5C105.7 226.1 106.6 224.7 107.6 223.3C108.5 221.9 109.4 220.5 110.4 219.2C111.4 217.8 112.3 216.5 113.3 215.1C114.3 213.8 115.3 212.5 116.3 211.1C117.2 209.8 118.2 208.4 119.2 207C120.1 205.7 121 204.3 122 202.9C122.9 201.5 123.8 200.1 124.7 198.7C125.6 197.3 126.5 195.9 127.4 194.5C128.4 193.2 129.3 191.8 130.2 190.4C131.2 189 132.2 187.7 133.1 186.3C134.1 185 135.1 183.7 136.1 182.3C137.2 181 138.2 179.7 139.3 178.5C140.4 177.2 141.5 176 142.7 174.9C143.8 173.7 145 172.6 146.3 171.6C147.6 170.6 148.9 169.7 150.3 169C151.7 168.2 153.1 167.6 154.7 167.2C156.2 166.7 157.7 166.4 159.3 166.2C160.9 166 162.6 165.9 164.2 165.8C165.8 165.6 167.5 165.6 169.1 165.4C170.7 165.2 172.3 164.9 173.9 164.6C175.5 164.2 177 163.7 178.5 163.1C180 162.5 181.5 161.8 182.9 161C184.3 160.2 185.6 159.3 186.9 158.3C188.2 157.3 189.4 156.1 190.6 155C191.7 153.9 192.9 152.6 194 151.4C195.1 150.2 196.2 149 197.4 147.8C198.6 146.6 199.7 145.5 201 144.4C202.2 143.3 203.5 142.3 204.8 141.3C206.2 140.4 207.5 139.5 209 138.7C210.4 137.9 211.9 137.3 213.4 136.7C214.9 136.1 216.5 135.6 218.1 135.1C219.7 134.7 221.3 134.4 222.9 134.1C224.5 133.7 226.2 133.5 227.8 133.2C229.4 133 231.1 132.7 232.7 132.4C234.3 132.1 236 131.8 237.6 131.4C239.1 130.9 240.7 130.5 242.3 129.9C243.8 129.3 245.3 128.7 246.8 128C248.3 127.3 249.8 126.6 251.3 125.8C252.8 125.1 254.2 124.3 255.7 123.5C257.2 122.7 258.6 121.8 260 121C261.5 120.2 262.9 119.3 264.3 118.4C265.7 117.5 267.1 116.6 268.5 115.7C269.9 114.8 271.3 113.9 272.7 113.1C274.1 112.2 275.6 111.4 277 110.6C278.5 109.8 280 109.1 281.5 108.5C283 107.9 284.6 107.3 286.1 106.9C287.7 106.4 289.3 106.1 290.9 105.8C292.6 105.6 294.2 105.4 295.8 105.3C297.5 105.1 299.2 105.1 300.8 105C302.5 105 304.1 104.9 305.8 104.9C307.5 104.8 309.1 104.7 310.8 104.7C312.5 104.6 314.1 104.5 315.8 104.3C317.4 104.2 319.1 104.1 320.8 104C322.4 103.8 324.1 103.7 325.7 103.6C327.4 103.6 329.1 103.5 330.7 103.5C332.4 103.5 334 103.5 335.7 103.6C337.3 103.7 339 103.9 340.6 104.1C342.3 104.3 343.9 104.5 345.6 104.8C347.2 105.1 348.8 105.5 350.4 105.8C352.1 106.2 353.7 106.6 355.3 107C356.9 107.4 358.5 107.9 360.1 108.4C361.7 108.9 363.3 109.4 364.8 109.9C366.4 110.5 368 111 369.5 111.6C371.1 112.2 372.6 112.8 374.2 113.4C375.7 114 377.3 114.7 378.8 115.3C380.4 115.9 381.9 116.6 383.4 117.3C384.9 117.9 386.4 118.6 387.9 119.4C389.4 120.1 390.9 120.9 392.3 121.7C393.8 122.5 395.2 123.4 396.6 124.2C398 125.1 399.4 126.1 400.8 127C402.2 127.9 403.5 128.9 404.9 129.9C406.2 130.8 407.6 131.8 408.9 132.8C410.2 133.8 411.5 134.8 412.8 135.9C414.1 136.9 415.4 138 416.6 139.1C417.9 140.2 419.1 141.3 420.2 142.5C421.3 143.7 422.3 145 423.3 146.3C424.2 147.6 425 149 425.6 150.4C426.3 151.9 426.8 153.4 427.1 155C427.4 156.5 427.6 158.1 427.6 159.7C427.7 161.3 427.6 162.9 427.4 164.6C427.2 166.2 426.9 167.8 426.6 169.4C426.2 171 425.8 172.6 425.4 174.2C424.9 175.8 424.4 177.3 423.8 178.8C423.1 180.3 422.5 181.8 421.6 183.1C420.8 184.5 419.9 185.8 418.8 187.1C417.8 188.3 416.7 189.5 415.5 190.6C414.3 191.8 413.1 192.9 411.9 194C410.7 195.1 409.4 196.2 408.2 197.2C406.9 198.3 405.6 199.3 404.3 200.3C402.9 201.3 401.6 202.2 400.2 203C398.7 203.9 397.3 204.7 395.8 205.5C394.4 206.2 392.9 207 391.4 207.7C389.9 208.5 388.4 209.2 386.9 209.9C385.4 210.7 384 211.5 382.5 212.3C381.1 213.1 379.6 213.9 378.2 214.8C376.8 215.7 375.4 216.6 374.1 217.6C372.7 218.6 371.4 219.6 370.1 220.6C368.8 221.7 367.6 222.7 366.3 223.9C365.1 225 363.9 226.1 362.7 227.3C361.5 228.4 360.4 229.6 359.2 230.8C358.1 232 356.9 233.3 355.8 234.5C354.7 235.7 353.5 236.9 352.4 238.1C351.2 239.3 350.1 240.5 348.9 241.7C347.8 242.9 346.6 244.1 345.4 245.3C344.2 246.4 343 247.6 341.9 248.8C340.7 250 339.5 251.2 338.4 252.3C337.2 253.5 336 254.7 334.9 256C333.8 257.2 332.6 258.4 331.5 259.6C330.3 260.8 329.2 262 328 263.2C326.9 264.4 325.7 265.6 324.5 266.7C323.3 267.9 322.1 269 320.8 270C319.5 271.1 318.2 272.1 316.9 273C315.5 273.9 314.1 274.7 312.6 275.5C311.2 276.2 309.7 276.9 308.1 277.5C306.6 278.1 305 278.6 303.4 279C301.8 279.5 300.2 279.8 298.6 280.1C297 280.3 295.3 280.5 293.7 280.7C292 280.8 290.4 280.9 288.7 280.9C287.1 280.9 285.4 280.8 283.7 280.8C282.1 280.7 280.4 280.6 278.8 280.5C277.1 280.5 275.4 280.3 273.8 280.3C272.1 280.2 270.4 280.1 268.8 280.1C267.1 280 265.4 280 263.8 280C262.1 280 260.5 280.1 258.8 280.2C257.1 280.2 255.5 280.4 253.8 280.5C252.2 280.7 250.5 280.9 248.9 281.1C247.2 281.3 245.6 281.5 243.9 281.7C242.3 281.9 240.6 282.1 238.9 282.3C237.3 282.5 235.6 282.7 234 282.9C232.3 283.1 230.7 283.3 229 283.6C227.4 283.8 225.7 284 224.1 284.2C222.4 284.4 220.8 284.6 219.1 284.8C217.4 285 215.8 285.2 214.1 285.4C212.5 285.6 210.8 285.8 209.2 286C207.5 286.2 205.9 286.4 204.2 286.5C202.6 286.7 200.9 286.9 199.2 287.1C197.6 287.2 195.9 287.4 194.3 287.6C192.6 287.7 190.9 287.9 189.3 288C187.6 288.1 186 288.3 184.3 288.4C182.6 288.5 181 288.7 179.3 288.8C177.6 288.9 176 289 174.3 289.1C172.7 289.2 171 289.2 169.3 289.3C167.7 289.4 166 289.4 164.3 289.5C162.7 289.5 161 289.6 159.3 289.6C157.7 289.7 156 289.7 154.3 289.8C152.7 289.8 151 289.9 149.3 290C147.7 290 146 290.1 144.4 290.2C142.7 290.3 141 290.4 139.4 290.5C137.7 290.6 136.1 290.8 134.4 290.9C132.7 291 131.1 291.2 129.4 291.4C127.8 291.5 126.1 291.7 124.5 291.8C122.9 291.9 121.2 292 119.6 291.9C118 291.9 116.4 291.7 114.8 291.4C113.3 291.2 111.7 290.7 110.2 290.2C108.7 289.7 107.2 289 105.8 288.2Z" fill="#1DA5E8"/>
<path d="M134.9 287C133.3 287.1 131.6 287.3 130 287.4C128.3 287.5 126.7 287.6 125 287.6C123.4 287.6 121.7 287.5 120.1 287.3C118.5 287.1 116.9 286.8 115.3 286.4C113.7 286 112.2 285.5 110.8 284.8C109.3 284.1 107.9 283.3 106.7 282.4C105.4 281.4 104.2 280.3 103.2 279.2C102.2 278 101.3 276.6 100.5 275.3C99.8 273.9 99.2 272.4 98.8 270.8C98.3 269.3 98 267.7 97.8 266.1C97.6 264.5 97.5 262.8 97.5 261.2C97.6 259.6 97.7 257.9 97.8 256.3C98 254.7 98.3 253 98.7 251.4C99 249.8 99.5 248.2 100 246.7C100.5 245.1 101.2 243.6 101.8 242.1C102.5 240.6 103.3 239.1 104.1 237.7C104.9 236.2 105.7 234.7 106.5 233.3C107.4 231.9 108.2 230.4 109.1 229C109.9 227.6 110.8 226.1 111.7 224.7C112.6 223.3 113.5 222 114.5 220.6C115.4 219.2 116.4 217.8 117.4 216.5C118.3 215.1 119.3 213.8 120.3 212.4C121.3 211.1 122.3 209.7 123.2 208.4C124.2 207 125.1 205.6 126.1 204.3C127 202.9 128 201.5 128.9 200.1C129.8 198.7 130.7 197.3 131.7 196C132.6 194.6 133.5 193.2 134.4 191.8C135.3 190.4 136.2 189 137.2 187.6C138.2 186.3 139.1 184.9 140.2 183.6C141.2 182.3 142.2 181 143.3 179.8C144.5 178.6 145.6 177.5 146.8 176.4C148.1 175.4 149.3 174.5 150.7 173.7C152.1 173 153.5 172.4 155 171.9C156.5 171.5 158.1 171.2 159.7 171C161.3 170.8 162.9 170.8 164.6 170.6C166.2 170.5 167.8 170.5 169.4 170.3C171.1 170.1 172.7 169.9 174.2 169.5C175.8 169.2 177.4 168.7 178.9 168.1C180.4 167.5 181.8 166.7 183.2 165.9C184.6 165.1 185.9 164.1 187.2 163.1C188.5 162.1 189.7 160.9 190.9 159.8C192 158.6 193.2 157.4 194.3 156.2C195.5 155 196.6 153.8 197.8 152.7C199 151.6 200.2 150.4 201.5 149.4C202.8 148.4 204.1 147.4 205.5 146.5C206.9 145.6 208.4 144.9 209.8 144.1C211.3 143.4 212.8 142.8 214.4 142.2C215.9 141.7 217.5 141.2 219.1 140.7C220.7 140.2 222.3 139.8 223.9 139.4C225.6 139 227.2 138.7 228.8 138.4C230.4 138 232.1 137.7 233.7 137.4C235.3 137 236.9 136.6 238.5 136.2C240.1 135.8 241.7 135.3 243.3 134.8C244.9 134.2 246.4 133.6 247.9 133C249.5 132.3 251 131.6 252.5 130.9C254 130.3 255.5 129.5 257 128.8C258.5 128 260 127.3 261.4 126.4C262.9 125.6 264.3 124.8 265.7 123.9C267.1 123 268.5 122.1 269.9 121.2C271.3 120.3 272.7 119.3 274.1 118.5C275.5 117.6 276.9 116.8 278.4 116C279.9 115.3 281.4 114.6 282.9 114C284.4 113.4 286 112.9 287.6 112.6C289.2 112.2 290.8 111.9 292.4 111.7C294.1 111.5 295.7 111.4 297.4 111.4C299 111.3 300.7 111.4 302.3 111.4C304 111.4 305.7 111.4 307.3 111.4C309 111.4 310.7 111.4 312.3 111.3C314 111.3 315.6 111.1 317.3 111C318.9 110.8 320.6 110.6 322.2 110.4C323.9 110.3 325.6 110 327.2 109.9C328.9 109.7 330.5 109.6 332.2 109.5C333.8 109.5 335.5 109.4 337.1 109.5C338.8 109.6 340.4 109.7 342.1 109.9C343.7 110.1 345.4 110.4 347 110.7C348.6 111 350.3 111.4 351.9 111.8C353.5 112.2 355.1 112.7 356.7 113.2C358.3 113.7 359.9 114.2 361.4 114.7C363 115.2 364.6 115.8 366.2 116.4C367.7 117 369.3 117.6 370.8 118.2C372.4 118.8 373.9 119.4 375.5 120C377 120.7 378.6 121.3 380.1 122C381.6 122.6 383.2 123.3 384.7 124C386.2 124.7 387.7 125.4 389.1 126.2C390.6 127 392.1 127.8 393.5 128.7C394.9 129.6 396.3 130.5 397.6 131.4C399 132.4 400.3 133.4 401.7 134.4C403 135.4 404.3 136.5 405.5 137.5C406.8 138.6 408.1 139.7 409.2 140.9C410.4 142 411.6 143.2 412.7 144.5C413.7 145.7 414.7 147 415.6 148.4C416.4 149.7 417.2 151.1 417.8 152.6C418.3 154.1 418.7 155.6 419 157.1C419.2 158.7 419.3 160.3 419.2 161.9C419.1 163.5 418.9 165.1 418.6 166.7C418.3 168.3 417.9 169.9 417.4 171.5C416.9 173 416.4 174.6 415.7 176.1C415 177.6 414.3 179 413.4 180.4C412.5 181.8 411.6 183.1 410.5 184.3C409.5 185.6 408.3 186.8 407.1 187.9C405.9 189 404.7 190.1 403.4 191.2C402.2 192.3 400.8 193.3 399.5 194.3C398.2 195.4 396.9 196.4 395.5 197.3C394.2 198.3 392.8 199.2 391.4 200.1C390 201 388.6 201.9 387.1 202.7C385.7 203.6 384.2 204.3 382.8 205.1C381.3 206 379.8 206.7 378.4 207.5C376.9 208.4 375.5 209.2 374.1 210.1C372.7 210.9 371.3 211.9 369.9 212.8C368.6 213.8 367.3 214.8 366 215.9C364.8 217 363.6 218.1 362.4 219.3C361.2 220.4 360 221.6 358.9 222.8C357.7 224.1 356.6 225.3 355.5 226.5C354.3 227.8 353.2 229 352.1 230.2C351 231.5 349.8 232.7 348.7 233.9C347.5 235.1 346.4 236.3 345.2 237.5C344 238.7 342.9 239.8 341.7 241C340.5 242.2 339.4 243.4 338.2 244.7C337.1 245.9 336 247.1 334.8 248.3C333.7 249.6 332.6 250.8 331.5 252.1C330.4 253.3 329.3 254.6 328.1 255.8C327 257 325.9 258.2 324.7 259.4C323.5 260.6 322.3 261.7 321.1 262.8C319.8 263.9 318.5 264.9 317.2 265.8C315.8 266.7 314.4 267.6 313 268.4C311.5 269.1 310 269.8 308.5 270.4C306.9 271 305.4 271.5 303.8 272C302.2 272.4 300.6 272.8 298.9 273C297.3 273.3 295.7 273.5 294 273.6C292.4 273.8 290.7 273.8 289 273.9C287.4 273.9 285.7 273.8 284.1 273.8C282.4 273.7 280.7 273.6 279.1 273.5C277.4 273.5 275.7 273.4 274.1 273.3C272.4 273.2 270.7 273.1 269.1 273.1C267.4 273 265.7 273 264.1 273C262.4 273 260.7 273 259.1 273.1C257.4 273.2 255.7 273.3 254.1 273.5C252.4 273.7 250.8 273.9 249.1 274.1C247.4 274.3 245.8 274.5 244.1 274.8C242.5 275 240.8 275.3 239.2 275.6C237.6 275.9 235.9 276.2 234.3 276.4C232.6 276.7 231 277 229.3 277.3C227.7 277.5 226 277.8 224.4 278C222.7 278.3 221.1 278.5 219.4 278.7C217.8 279 216.1 279.2 214.4 279.4C212.8 279.6 211.1 279.8 209.5 280C207.8 280.3 206.2 280.5 204.5 280.7C202.9 280.9 201.2 281.1 199.5 281.4C197.9 281.6 196.2 281.8 194.6 282C192.9 282.2 191.3 282.4 189.6 282.6C187.9 282.8 186.3 283 184.6 283.2C183 283.4 181.3 283.6 179.6 283.8C178 283.9 176.3 284.1 174.7 284.3C173 284.5 171.3 284.6 169.7 284.8C168 284.9 166.3 285.1 164.7 285.2C163 285.3 161.3 285.4 159.7 285.6C158 285.7 156.4 285.7 154.7 285.8C153 285.9 151.4 285.9 149.7 286C148 286 146.4 286.1 144.7 286.2C143.1 286.2 141.5 286.3 139.8 286.5C138.2 286.6 136.5 286.8 134.9 287Z" fill="#0458AF"/>
<path d="M134.9 282.5C133.3 282.7 131.6 282.9 130 283.1C128.4 283.2 126.7 283.3 125.1 283.3C123.4 283.3 121.8 283.2 120.2 283C118.6 282.7 117 282.4 115.5 281.8C114.1 281.3 112.6 280.7 111.3 279.8C110 279 108.7 278 107.7 276.9C106.6 275.8 105.7 274.5 104.9 273.1C104.2 271.8 103.5 270.3 103.1 268.8C102.6 267.3 102.3 265.7 102.1 264.1C101.9 262.5 101.8 260.8 101.9 259.2C101.9 257.6 102.1 255.9 102.3 254.3C102.6 252.7 103 251.1 103.4 249.5C103.9 248 104.5 246.4 105.1 244.9C105.7 243.4 106.5 241.9 107.2 240.4C108 239 108.9 237.5 109.7 236.1C110.5 234.7 111.4 233.2 112.3 231.8C113.1 230.4 114 229 114.9 227.6C115.8 226.2 116.7 224.8 117.6 223.4C118.6 222 119.5 220.6 120.5 219.3C121.5 217.9 122.5 216.6 123.4 215.2C124.4 213.9 125.4 212.5 126.4 211.2C127.4 209.8 128.3 208.5 129.3 207.1C130.2 205.7 131.1 204.3 131.9 202.9C132.8 201.5 133.6 200 134.5 198.6C135.3 197.1 136.1 195.7 137 194.3C137.9 192.8 138.7 191.4 139.7 190C140.6 188.7 141.6 187.3 142.6 186.1C143.6 184.8 144.7 183.6 145.9 182.5C147.1 181.4 148.3 180.3 149.6 179.5C151 178.7 152.4 178 153.8 177.4C155.3 176.9 156.9 176.6 158.4 176.3C160 176.1 161.6 176 163.2 176C164.9 175.9 166.5 176 168.2 175.9C169.8 175.8 171.4 175.8 173 175.6C174.6 175.4 176.3 175.1 177.8 174.7C179.3 174.2 180.8 173.6 182.2 172.9C183.7 172.2 185 171.3 186.3 170.4C187.6 169.4 188.7 168.3 189.9 167.1C191.1 166 192.1 164.7 193.2 163.5C194.4 162.3 195.4 161 196.6 159.8C197.7 158.6 198.9 157.5 200.2 156.4C201.4 155.3 202.7 154.3 204 153.3C205.4 152.4 206.8 151.5 208.2 150.7C209.6 149.8 211.1 149.1 212.6 148.4C214.1 147.7 215.7 147.1 217.2 146.6C218.8 146 220.4 145.5 222 145.1C223.6 144.6 225.2 144.2 226.8 143.8C228.4 143.4 230 143.1 231.7 142.8C233.3 142.4 234.9 142.1 236.5 141.7C238.1 141.3 239.7 140.9 241.3 140.4C242.9 139.9 244.4 139.3 246 138.8C247.5 138.2 249.1 137.5 250.6 136.8C252.1 136.2 253.6 135.5 255.1 134.7C256.6 134 258.1 133.3 259.6 132.5C261 131.7 262.5 130.9 263.9 130C265.3 129.2 266.7 128.2 268.1 127.4C269.5 126.5 270.9 125.5 272.3 124.7C273.7 123.8 275.1 122.9 276.6 122.2C278.1 121.5 279.6 120.8 281.1 120.2C282.6 119.6 284.2 119.2 285.8 118.8C287.4 118.4 289 118.1 290.6 117.9C292.3 117.7 293.9 117.5 295.6 117.4C297.3 117.2 298.9 117.1 300.6 117C302.2 116.9 303.9 116.8 305.6 116.7C307.3 116.6 308.9 116.5 310.6 116.5C312.3 116.4 313.9 116.3 315.6 116.2C317.3 116.1 318.9 116 320.6 115.8C322.3 115.7 323.9 115.6 325.6 115.5C327.3 115.5 328.9 115.4 330.6 115.3C332.2 115.3 333.9 115.3 335.6 115.4C337.2 115.4 338.9 115.5 340.5 115.7C342.2 115.9 343.8 116.1 345.5 116.4C347.1 116.7 348.7 117.1 350.3 117.4C352 117.8 353.6 118.3 355.2 118.7C356.8 119.2 358.4 119.7 359.9 120.2C361.5 120.7 363.1 121.3 364.7 121.9C366.2 122.4 367.8 123 369.3 123.7C370.9 124.3 372.4 124.9 374 125.6C375.5 126.2 377 126.9 378.6 127.6C380.1 128.3 381.6 129 383.1 129.7C384.6 130.5 386.1 131.2 387.5 132C389 132.8 390.4 133.7 391.8 134.6C393.2 135.4 394.6 136.4 395.9 137.3C397.3 138.3 398.6 139.3 399.9 140.4C401.1 141.5 402.4 142.6 403.5 143.7C404.6 144.9 405.7 146.1 406.7 147.4C407.6 148.7 408.5 150.1 409.1 151.5C409.8 152.9 410.4 154.5 410.7 156C411.1 157.5 411.2 159.1 411.2 160.7C411.2 162.2 411 163.8 410.7 165.4C410.4 167 409.9 168.5 409.3 170C408.7 171.5 408 173 407.2 174.4C406.4 175.8 405.5 177.2 404.5 178.5C403.5 179.9 402.5 181.1 401.4 182.4C400.3 183.6 399.1 184.8 397.9 186C396.7 187.1 395.5 188.2 394.3 189.3C393 190.4 391.7 191.5 390.4 192.6C389.1 193.6 387.8 194.6 386.5 195.6C385.1 196.6 383.8 197.6 382.4 198.5C381 199.5 379.7 200.4 378.3 201.3C376.9 202.2 375.5 203.1 374.1 204.1C372.7 205 371.3 205.9 370 206.9C368.6 207.9 367.3 208.8 366 209.9C364.7 210.9 363.4 212 362.1 213.1C360.9 214.2 359.7 215.3 358.5 216.5C357.3 217.7 356.1 218.9 355 220C353.8 221.2 352.7 222.5 351.5 223.7C350.4 224.9 349.2 226.1 348 227.3C346.9 228.5 345.7 229.7 344.6 230.9C343.4 232.1 342.2 233.3 341.1 234.5C339.9 235.7 338.8 236.9 337.7 238.1C336.5 239.4 335.4 240.6 334.3 241.9C333.2 243.1 332.1 244.3 331 245.6C329.9 246.8 328.8 248.1 327.6 249.3C326.5 250.5 325.4 251.8 324.2 252.9C323 254.1 321.8 255.3 320.6 256.4C319.3 257.5 318.1 258.5 316.7 259.5C315.4 260.4 314 261.4 312.6 262.2C311.2 263 309.7 263.8 308.2 264.4C306.7 265.1 305.2 265.7 303.6 266.2C302 266.7 300.4 267.1 298.8 267.5C297.2 267.8 295.6 268 293.9 268.2C292.3 268.4 290.6 268.4 289 268.5C287.3 268.5 285.6 268.5 284 268.4C282.3 268.4 280.6 268.3 279 268.3C277.3 268.2 275.6 268.1 274 268.1C272.3 268 270.6 268 269 268C267.3 268 265.6 268 264 268C262.3 268.1 260.6 268.1 259 268.2C257.3 268.3 255.6 268.5 254 268.6C252.3 268.8 250.7 269 249 269.2C247.3 269.4 245.7 269.6 244 269.8C242.4 270.1 240.7 270.4 239.1 270.6C237.4 270.9 235.8 271.2 234.2 271.5C232.5 271.7 230.9 272 229.2 272.3C227.6 272.6 225.9 272.8 224.3 273C222.6 273.3 221 273.5 219.3 273.7C217.7 274 216 274.2 214.3 274.4C212.7 274.6 211 274.8 209.4 275.1C207.7 275.3 206.1 275.5 204.4 275.7C202.7 275.9 201.1 276.2 199.4 276.4C197.8 276.6 196.1 276.8 194.5 277C192.8 277.2 191.2 277.4 189.5 277.6C187.8 277.8 186.2 278 184.5 278.2C182.9 278.4 181.2 278.6 179.5 278.8C177.9 279 176.2 279.1 174.6 279.3C172.9 279.5 171.2 279.6 169.6 279.8C167.9 279.9 166.2 280.1 164.6 280.2C162.9 280.3 161.2 280.5 159.6 280.6C157.9 280.7 156.3 280.8 154.6 280.8C152.9 280.9 151.3 281 149.6 281.1C148 281.1 146.3 281.2 144.7 281.3C143 281.4 141.4 281.6 139.8 281.8C138.1 282 136.5 282.2 134.9 282.5Z" fill="#FCF398"/>
<path d="M134.9 277.5C133.3 277.6 131.6 277.8 130 277.9C128.4 277.9 126.7 278 125.1 277.8C123.5 277.7 121.9 277.5 120.4 277.1C118.9 276.6 117.4 276.1 116 275.3C114.7 274.6 113.4 273.7 112.3 272.6C111.2 271.6 110.2 270.3 109.4 269C108.7 267.7 108 266.2 107.6 264.7C107.1 263.3 106.9 261.7 106.7 260.1C106.6 258.5 106.7 256.9 106.9 255.3C107.1 253.7 107.4 252.1 107.9 250.6C108.3 249 108.9 247.5 109.6 246C110.3 244.6 111.2 243.2 112.1 241.8C112.9 240.4 113.9 239.1 114.9 237.7C115.9 236.4 116.9 235.1 117.9 233.7C118.9 232.4 119.9 231 120.8 229.7C121.7 228.3 122.6 226.9 123.5 225.5C124.3 224 125.1 222.6 125.9 221.1C126.8 219.7 127.5 218.2 128.3 216.7C129.1 215.3 129.9 213.8 130.7 212.3C131.6 210.9 132.4 209.5 133.3 208C134.1 206.6 135.1 205.2 136 203.8C136.9 202.4 137.8 201.1 138.8 199.7C139.7 198.3 140.6 196.9 141.6 195.6C142.6 194.2 143.5 192.8 144.5 191.5C145.5 190.3 146.6 189 147.7 187.8C148.8 186.7 150 185.6 151.2 184.7C152.5 183.9 153.9 183.1 155.3 182.6C156.8 182 158.3 181.6 159.9 181.4C161.4 181.1 163.1 181 164.7 180.9C166.3 180.7 167.9 180.7 169.6 180.6C171.2 180.4 172.8 180.3 174.4 180C176 179.6 177.6 179.2 179.1 178.7C180.6 178.2 182.1 177.5 183.5 176.7C184.9 175.9 186.3 175 187.6 174C188.9 173 190.1 171.9 191.3 170.8C192.5 169.7 193.6 168.5 194.8 167.3C196 166.2 197.2 165 198.4 163.9C199.6 162.8 200.9 161.7 202.2 160.7C203.5 159.7 204.9 158.7 206.3 157.8C207.6 156.9 209.1 156.1 210.5 155.3C212 154.5 213.5 153.8 215 153.1C216.5 152.4 218.1 151.8 219.6 151.3C221.2 150.8 222.8 150.3 224.4 149.9C226 149.5 227.6 149.2 229.2 148.9C230.9 148.5 232.5 148.3 234.1 148C235.7 147.6 237.4 147.3 239 146.9C240.6 146.5 242.1 146 243.7 145.5C245.3 145 246.8 144.4 248.4 143.8C249.9 143.1 251.4 142.4 252.9 141.7C254.4 141 255.9 140.3 257.4 139.6C258.9 138.8 260.4 138 261.8 137.2C263.3 136.4 264.7 135.5 266.1 134.7C267.5 133.8 268.9 132.9 270.3 132C271.7 131.1 273.1 130.2 274.5 129.4C276 128.6 277.4 127.8 278.9 127.1C280.4 126.5 281.9 125.9 283.5 125.4C285 125 286.7 124.6 288.3 124.3C289.9 124 291.5 123.8 293.2 123.6C294.8 123.5 296.5 123.4 298.2 123.3C299.8 123.2 301.5 123.1 303.2 123.1C304.8 123.1 306.5 123 308.2 123C309.8 123 311.5 123 313.2 122.9C314.8 122.9 316.5 122.9 318.2 122.8C319.8 122.7 321.5 122.6 323.2 122.5C324.8 122.4 326.5 122.3 328.2 122.2C329.8 122.1 331.5 121.9 333.1 121.9C334.8 121.8 336.5 121.8 338.1 121.8C339.8 121.9 341.4 122 343 122.2C344.7 122.4 346.3 122.6 347.9 123C349.6 123.3 351.2 123.7 352.8 124.1C354.4 124.5 356 125 357.6 125.5C359.2 126 360.7 126.5 362.3 127.1C363.9 127.7 365.4 128.3 367 129C368.5 129.6 370 130.3 371.5 131C373 131.7 374.5 132.5 376 133.3C377.4 134.1 378.9 134.9 380.3 135.8C381.7 136.7 383.1 137.6 384.4 138.6C385.7 139.5 387 140.5 388.2 141.7C389.5 142.8 390.6 143.9 391.7 145.2C392.7 146.4 393.7 147.7 394.5 149.1C395.3 150.5 396 152 396.6 153.5C397.2 155 397.7 156.5 398 158.1C398.3 159.7 398.5 161.3 398.6 162.9C398.6 164.5 398.5 166.1 398.3 167.7C398.1 169.3 397.8 170.9 397.3 172.4C396.8 174 396.2 175.5 395.5 176.9C394.7 178.4 393.9 179.8 392.9 181.1C392 182.4 391 183.6 389.8 184.8C388.7 186 387.5 187.1 386.2 188.2C385 189.3 383.7 190.3 382.3 191.3C381 192.2 379.6 193.2 378.2 194.1C376.9 195 375.4 195.9 374 196.8C372.6 197.7 371.2 198.6 369.8 199.5C368.4 200.4 367 201.3 365.6 202.2C364.2 203.2 362.8 204.1 361.5 205.1C360.1 206 358.8 207 357.5 208.1C356.2 209.1 354.9 210.1 353.7 211.3C352.4 212.4 351.2 213.5 350.1 214.7C348.9 215.9 347.8 217.1 346.7 218.3C345.5 219.6 344.5 220.8 343.4 222.1C342.3 223.4 341.2 224.7 340.2 226C339.1 227.2 338 228.5 337 229.8C335.9 231.1 334.8 232.4 333.7 233.6C332.7 234.9 331.6 236.2 330.5 237.5C329.4 238.7 328.3 240 327.2 241.2C326.1 242.5 325 243.7 323.8 244.9C322.7 246.1 321.5 247.3 320.3 248.4C319 249.5 317.8 250.5 316.5 251.5C315.1 252.5 313.8 253.5 312.4 254.3C311 255.2 309.5 256 308 256.7C306.6 257.4 305 258.1 303.5 258.6C301.9 259.2 300.3 259.7 298.7 260.1C297.1 260.5 295.5 260.8 293.9 261C292.3 261.3 290.6 261.4 288.9 261.6C287.3 261.7 285.6 261.7 284 261.8C282.3 261.8 280.6 261.8 279 261.8C277.3 261.8 275.6 261.8 273.9 261.7C272.3 261.7 270.6 261.7 268.9 261.7C267.3 261.8 265.6 261.8 263.9 261.9C262.3 261.9 260.6 262 258.9 262.1C257.3 262.2 255.6 262.4 254 262.5C252.3 262.7 250.6 262.9 249 263.1C247.3 263.3 245.7 263.6 244 263.8C242.4 264.1 240.7 264.3 239.1 264.6C237.4 264.9 235.8 265.2 234.1 265.5C232.5 265.8 230.9 266 229.2 266.3C227.6 266.6 225.9 266.8 224.3 267.1C222.6 267.3 221 267.5 219.3 267.8C217.6 268 216 268.2 214.3 268.5C212.7 268.7 211 269 209.4 269.2C207.7 269.5 206.1 269.8 204.4 270C202.8 270.3 201.2 270.6 199.5 270.9C197.9 271.2 196.2 271.4 194.6 271.7C192.9 272 191.3 272.2 189.6 272.5C188 272.7 186.3 272.9 184.7 273.2C183 273.4 181.3 273.6 179.7 273.7C178 273.9 176.4 274.1 174.7 274.3C173 274.4 171.4 274.6 169.7 274.8C168.1 274.9 166.4 275.1 164.7 275.2C163.1 275.3 161.4 275.5 159.7 275.6C158.1 275.7 156.4 275.8 154.7 275.9C153.1 276 151.4 276 149.7 276.1C148.1 276.2 146.4 276.3 144.8 276.4C143.1 276.6 141.5 276.7 139.8 276.9C138.2 277.1 136.6 277.3 134.9 277.5Z" fill="#F8E858"/>
<path d="M135 272.3C133.4 272.4 131.7 272.4 130.1 272.3C128.5 272.2 126.9 272 125.4 271.6C123.8 271.2 122.3 270.8 121 270.1C119.7 269.4 118.4 268.5 117.3 267.5C116.3 266.5 115.3 265.3 114.7 264C114 262.7 113.4 261.2 113.1 259.8C112.8 258.3 112.8 256.7 112.8 255.2C112.9 253.6 113.2 252.1 113.7 250.6C114.1 249.1 114.7 247.6 115.5 246.2C116.2 244.8 117.1 243.4 118.1 242.1C119 240.9 120.1 239.6 121.2 238.4C122.3 237.2 123.4 236 124.5 234.8C125.6 233.5 126.7 232.3 127.7 231C128.7 229.7 129.7 228.4 130.6 227C131.6 225.7 132.4 224.3 133.3 222.9C134.1 221.4 134.9 220 135.6 218.5C136.3 217 137 215.5 137.6 214C138.3 212.5 138.9 210.9 139.5 209.4C140.2 207.9 140.8 206.3 141.4 204.8C142.1 203.3 142.8 201.8 143.6 200.4C144.4 199.1 145.2 197.7 146.2 196.5C147.2 195.4 148.3 194.3 149.6 193.4C150.8 192.5 152.2 191.8 153.6 191.2C155 190.6 156.6 190.2 158.1 189.8C159.6 189.3 161.1 189.1 162.6 188.7C164.1 188.3 165.6 187.9 167.1 187.5C168.6 187 170 186.5 171.5 186.1C173 185.6 174.5 185.1 176 184.6C177.5 184.1 179.1 183.6 180.5 183.1C182 182.5 183.5 181.8 184.9 181.1C186.3 180.3 187.7 179.4 189 178.5C190.3 177.5 191.5 176.4 192.7 175.4C194 174.3 195.2 173.2 196.4 172.1C197.7 171 198.9 169.9 200.2 168.8C201.5 167.8 202.8 166.8 204.1 165.8C205.5 164.9 206.8 163.9 208.2 163C209.6 162.2 211.1 161.3 212.5 160.5C214 159.8 215.4 159 216.9 158.4C218.4 157.7 220 157.1 221.5 156.6C223.1 156.1 224.7 155.7 226.3 155.3C227.9 154.9 229.5 154.6 231.1 154.4C232.8 154.1 234.4 153.9 236 153.6C237.7 153.4 239.3 153.1 240.9 152.8C242.5 152.5 244.2 152.1 245.7 151.7C247.3 151.2 248.9 150.7 250.4 150.2C252 149.6 253.5 149 255 148.3C256.5 147.6 258 146.8 259.4 146C260.8 145.2 262.3 144.3 263.6 143.4C265 142.6 266.4 141.6 267.8 140.7C269.1 139.8 270.5 138.8 271.9 137.9C273.3 137 274.7 136.1 276.1 135.4C277.5 134.6 279 133.9 280.5 133.2C282 132.6 283.6 132.1 285.2 131.6C286.7 131.2 288.3 130.8 290 130.5C291.6 130.2 293.2 129.9 294.9 129.7C296.5 129.5 298.1 129.4 299.8 129.2C301.4 129.1 303.1 128.9 304.8 128.8C306.4 128.7 308.1 128.6 309.7 128.5C311.4 128.5 313.1 128.4 314.7 128.3C316.4 128.3 318 128.2 319.7 128.2C321.4 128.1 323 128.1 324.7 128.1C326.3 128.1 328 128.1 329.7 128.1C331.3 128.1 333 128.1 334.6 128.2C336.3 128.3 337.9 128.4 339.6 128.6C341.2 128.8 342.9 129 344.5 129.2C346.1 129.5 347.7 129.8 349.4 130.2C351 130.6 352.6 131 354.2 131.5C355.7 132 357.3 132.5 358.9 133C360.4 133.6 362 134.2 363.5 134.9C365 135.5 366.5 136.2 368 136.9C369.5 137.7 371 138.4 372.4 139.2C373.9 140 375.3 140.9 376.6 141.8C378 142.7 379.3 143.6 380.6 144.7C381.8 145.7 383 146.9 384 148.1C385 149.3 385.9 150.6 386.6 152C387.4 153.4 388 154.8 388.4 156.3C388.8 157.8 389.1 159.4 389.1 161C389.2 162.5 389.1 164.1 388.9 165.7C388.7 167.3 388.3 168.8 387.7 170.3C387.2 171.8 386.5 173.3 385.7 174.7C384.9 176.1 384 177.5 383 178.7C382.1 180 381 181.2 379.8 182.4C378.7 183.6 377.4 184.7 376.2 185.7C374.9 186.7 373.6 187.7 372.2 188.7C370.9 189.6 369.5 190.5 368.1 191.4C366.7 192.3 365.3 193.2 363.9 194.1C362.5 195 361.1 196 359.8 196.9C358.5 197.9 357.1 198.9 355.9 199.9C354.6 201 353.4 202.1 352.2 203.2C351 204.4 349.9 205.6 348.7 206.8C347.6 208 346.5 209.3 345.5 210.5C344.4 211.8 343.3 213.1 342.3 214.4C341.2 215.6 340.2 216.9 339.1 218.2C338 219.5 337 220.8 335.9 222C334.8 223.3 333.7 224.5 332.6 225.8C331.5 227 330.4 228.3 329.3 229.5C328.2 230.7 327 231.9 325.9 233.1C324.8 234.3 323.6 235.5 322.4 236.7C321.2 237.8 320 239 318.8 240.1C317.6 241.2 316.3 242.3 315 243.4C313.8 244.4 312.5 245.4 311.1 246.4C309.8 247.3 308.4 248.2 307 249C305.5 249.9 304.1 250.6 302.6 251.3C301.1 252 299.6 252.5 298 253C296.5 253.5 294.9 253.9 293.3 254.2C291.7 254.5 290 254.7 288.4 254.9C286.7 255 285.1 255.1 283.4 255.2C281.8 255.3 280.1 255.4 278.5 255.4C276.8 255.5 275.1 255.6 273.5 255.7C271.8 255.8 270.2 255.9 268.5 256C266.9 256.1 265.2 256.2 263.5 256.3C261.9 256.5 260.2 256.6 258.6 256.8C256.9 257 255.3 257.2 253.6 257.4C252 257.6 250.3 257.8 248.7 258C247 258.2 245.4 258.4 243.7 258.7C242.1 258.9 240.5 259.2 238.8 259.4C237.2 259.6 235.5 259.9 233.9 260.1C232.2 260.4 230.6 260.6 229 260.9C227.3 261.1 225.7 261.4 224 261.6C222.4 261.8 220.7 262.1 219.1 262.3C217.4 262.6 215.8 262.8 214.2 263C212.5 263.3 210.9 263.5 209.2 263.8C207.6 264 205.9 264.2 204.3 264.5C202.6 264.7 201 265 199.4 265.2C197.7 265.4 196.1 265.7 194.4 265.9C192.8 266.2 191.1 266.4 189.5 266.6C187.8 266.8 186.2 267.1 184.5 267.3C182.9 267.5 181.3 267.7 179.6 267.9C178 268.2 176.3 268.4 174.7 268.6C173 268.7 171.4 268.9 169.7 269.1C168 269.3 166.4 269.5 164.7 269.6C163.1 269.8 161.4 269.9 159.8 270.1C158.1 270.2 156.5 270.4 154.8 270.5C153.2 270.7 151.5 270.8 149.9 271C148.2 271.2 146.5 271.4 144.9 271.5C143.2 271.7 141.6 271.9 139.9 272C138.3 272.2 136.6 272.3 135 272.3Z" fill="#D9B900"/>
<path d="M135 265.8C133.5 265.8 131.9 265.6 130.4 265.3C129 264.9 127.5 264.4 126.3 263.7C125.1 263 124 262 123.1 260.9C122.3 259.9 121.7 258.5 121.3 257.2C120.9 255.9 120.8 254.3 120.8 252.9C120.9 251.4 121.2 249.8 121.7 248.3C122.1 246.9 122.8 245.4 123.5 244C124.2 242.5 125.1 241.1 126 239.8C126.8 238.4 127.7 237 128.6 235.6C129.5 234.2 130.3 232.8 131.1 231.4C131.9 230 132.7 228.5 133.4 227C134.2 225.6 134.9 224.1 135.6 222.6C136.3 221.1 137.1 219.6 137.8 218.1C138.6 216.7 139.4 215.2 140.2 213.8C141 212.3 141.8 210.9 142.7 209.5C143.5 208.1 144.4 206.7 145.4 205.4C146.4 204.1 147.4 202.8 148.5 201.7C149.7 200.6 150.8 199.5 152.1 198.6C153.4 197.8 154.8 197 156.2 196.4C157.6 195.8 159.1 195.3 160.5 194.8C162 194.4 163.5 194 165 193.5C166.4 193 167.9 192.6 169.3 192.1C170.8 191.6 172.2 191.2 173.7 190.7C175.2 190.3 176.8 189.9 178.3 189.4C179.8 188.9 181.3 188.5 182.8 187.9C184.3 187.3 185.8 186.7 187.2 185.9C188.6 185.2 189.9 184.3 191.3 183.3C192.6 182.4 193.9 181.4 195.2 180.4C196.5 179.4 197.7 178.3 199 177.3C200.3 176.3 201.7 175.3 203 174.3C204.3 173.3 205.7 172.3 207 171.4C208.4 170.5 209.8 169.5 211.2 168.7C212.6 167.8 214.1 167 215.5 166.3C217 165.5 218.5 164.8 220 164.3C221.5 163.7 223.1 163.2 224.7 162.8C226.3 162.3 227.9 162 229.5 161.7C231.1 161.4 232.8 161.2 234.4 161C236 160.8 237.7 160.6 239.3 160.3C240.9 160 242.6 159.8 244.2 159.4C245.8 159 247.4 158.6 248.9 158.1C250.5 157.5 252 156.9 253.5 156.3C255 155.6 256.5 154.9 257.9 154C259.3 153.2 260.7 152.3 262.1 151.4C263.5 150.5 264.8 149.5 266.1 148.5C267.5 147.6 268.8 146.5 270.1 145.6C271.5 144.6 272.8 143.7 274.2 142.8C275.6 141.9 277 141.1 278.4 140.4C279.9 139.7 281.4 139.1 283 138.6C284.5 138.1 286.1 137.7 287.7 137.4C289.3 137.1 290.9 136.9 292.6 136.7C294.2 136.5 295.9 136.3 297.5 136.2C299.2 136.1 300.8 136 302.5 135.9C304.1 135.8 305.8 135.7 307.5 135.6C309.1 135.6 310.8 135.5 312.4 135.4C314.1 135.3 315.8 135.3 317.4 135.2C319.1 135.2 320.7 135.1 322.4 135.1C324.1 135.1 325.7 135.1 327.4 135.1C329 135.1 330.7 135.1 332.4 135.2C334 135.3 335.7 135.4 337.3 135.6C338.9 135.7 340.5 136 342.2 136.3C343.8 136.6 345.4 137 347 137.5C348.5 137.9 350.1 138.4 351.7 139C353.2 139.5 354.8 140.1 356.3 140.8C357.8 141.4 359.3 142.1 360.8 142.9C362.2 143.6 363.7 144.4 365.1 145.3C366.4 146.2 367.8 147.1 369 148.2C370.2 149.2 371.3 150.3 372.2 151.6C373.2 152.8 374 154.2 374.6 155.6C375.2 157 375.7 158.5 375.9 160C376.2 161.5 376.2 163.1 376.1 164.6C375.9 166.1 375.6 167.7 375.1 169.1C374.6 170.6 373.9 172 373 173.4C372.2 174.8 371.3 176.1 370.2 177.3C369.2 178.5 368 179.7 366.8 180.8C365.6 182 364.4 183 363.1 184.1C361.8 185.1 360.5 186.1 359.2 187.1C357.9 188.1 356.5 189.1 355.2 190.1C353.9 191.2 352.6 192.2 351.4 193.3C350.1 194.4 348.9 195.5 347.8 196.6C346.6 197.8 345.5 199 344.4 200.3C343.4 201.6 342.4 202.9 341.4 204.2C340.4 205.5 339.5 206.9 338.5 208.3C337.6 209.6 336.6 211 335.6 212.3C334.6 213.6 333.6 214.9 332.6 216.2C331.5 217.5 330.4 218.7 329.3 220C328.2 221.2 327 222.4 325.8 223.5C324.7 224.7 323.5 225.8 322.2 226.9C321 228 319.7 229.1 318.5 230.2C317.2 231.2 315.9 232.3 314.6 233.3C313.3 234.3 311.9 235.3 310.5 236.2C309.2 237.1 307.8 238 306.4 238.8C304.9 239.7 303.5 240.4 302 241.1C300.5 241.8 299 242.4 297.4 243C295.9 243.5 294.3 244 292.7 244.4C291.1 244.8 289.5 245.1 287.9 245.4C286.2 245.7 284.6 246 283 246.2C281.3 246.5 279.7 246.7 278 246.9C276.4 247.1 274.7 247.3 273.1 247.5C271.4 247.7 269.8 247.9 268.1 248.1C266.5 248.4 264.8 248.6 263.2 248.8C261.5 249.1 259.9 249.3 258.3 249.6C256.6 249.9 255 250.2 253.3 250.4C251.7 250.7 250.1 251 248.4 251.3C246.8 251.6 245.2 251.9 243.5 252.2C241.9 252.5 240.3 252.8 238.6 253.1C237 253.4 235.4 253.6 233.7 253.9C232.1 254.1 230.4 254.4 228.8 254.6C227.1 254.8 225.5 255 223.8 255.2C222.2 255.5 220.5 255.7 218.9 255.9C217.2 256.1 215.6 256.3 213.9 256.5C212.3 256.7 210.6 256.9 209 257.1C207.3 257.3 205.7 257.5 204 257.7C202.4 258 200.7 258.2 199.1 258.4C197.5 258.6 195.8 258.8 194.2 259.1C192.5 259.3 190.9 259.5 189.2 259.8C187.6 260 185.9 260.3 184.3 260.5C182.7 260.8 181 261.1 179.4 261.3C177.7 261.5 176.1 261.8 174.4 262C172.8 262.2 171.1 262.4 169.5 262.6C167.8 262.8 166.2 263 164.5 263.1C162.9 263.3 161.2 263.4 159.6 263.6C157.9 263.7 156.3 263.8 154.6 264C153 264.1 151.3 264.2 149.7 264.4C148 264.6 146.4 264.8 144.8 265C143.1 265.2 141.5 265.4 139.9 265.6C138.2 265.7 136.6 265.9 135 265.8Z" fill="#FEC7B8"/>
<path d="M136.6 239.7C136.6 238.3 137 236.9 137.4 235.5C137.9 234.1 138.6 232.7 139.4 231.3C140.1 229.8 141 228.4 141.8 227C142.6 225.6 143.5 224.1 144.3 222.7C145.1 221.2 145.9 219.8 146.7 218.3C147.5 216.9 148.3 215.4 149.2 214.1C150.1 212.7 151.1 211.3 152.1 210.1C153.1 208.8 154.2 207.6 155.4 206.6C156.6 205.5 157.9 204.6 159.3 203.8C160.7 203 162.2 202.4 163.7 201.8C165.2 201.3 166.8 200.9 168.3 200.6C169.9 200.3 171.6 200.1 173.2 199.8C174.8 199.6 176.5 199.4 178.1 199.1C179.7 198.7 181.3 198.4 182.8 197.9C184.4 197.4 185.9 196.8 187.3 196.1C188.7 195.4 190.1 194.5 191.4 193.6C192.7 192.6 194 191.5 195.2 190.5C196.4 189.4 197.6 188.2 198.8 187.1C200 185.9 201.2 184.7 202.4 183.6C203.6 182.4 204.8 181.2 206 180.1C207.2 178.9 208.4 177.7 209.6 176.6C210.8 175.5 212 174.4 213.3 173.3C214.6 172.3 215.9 171.3 217.3 170.4C218.6 169.5 220 168.7 221.5 168.1C223 167.4 224.5 166.9 226.1 166.4C227.6 166 229.2 165.7 230.9 165.5C232.5 165.3 234.1 165.1 235.8 165C237.5 164.9 239.1 164.8 240.8 164.7C242.4 164.6 244.1 164.5 245.7 164.3C247.4 164.1 249 163.8 250.6 163.4C252.1 163 253.7 162.5 255.2 162C256.7 161.4 258.2 160.6 259.7 159.9C261.1 159.1 262.5 158.2 263.9 157.3C265.3 156.5 266.7 155.5 268.1 154.6C269.5 153.8 270.9 152.9 272.3 152.1C273.8 151.4 275.3 150.6 276.8 150C278.3 149.4 279.9 148.8 281.5 148.3C283 147.9 284.6 147.5 286.3 147.1C287.9 146.7 289.5 146.5 291.2 146.2C292.8 145.9 294.5 145.7 296.1 145.6C297.8 145.4 299.4 145.2 301.1 145.1C302.8 145 304.4 144.9 306.1 144.8C307.8 144.7 309.4 144.6 311.1 144.5C312.8 144.4 314.4 144.4 316.1 144.4C317.8 144.3 319.4 144.3 321.1 144.3C322.8 144.4 324.4 144.4 326.1 144.6C327.8 144.7 329.4 144.8 331.1 145C332.7 145.2 334.4 145.4 336 145.7C337.6 146.1 339.2 146.4 340.8 146.9C342.3 147.4 343.8 148 345.2 148.7C346.6 149.5 347.9 150.3 349 151.3C350.1 152.3 351.1 153.5 351.8 154.8C352.6 156.1 353.2 157.5 353.5 159C353.9 160.4 354 162 354 163.6C354 165.1 353.8 166.7 353.5 168.3C353.1 169.8 352.6 171.4 352 172.9C351.4 174.4 350.7 175.9 349.9 177.3C349.1 178.8 348.2 180.2 347.3 181.5C346.4 182.9 345.4 184.3 344.4 185.6C343.4 186.9 342.4 188.2 341.3 189.5C340.3 190.8 339.2 192.1 338.2 193.4C337.1 194.7 336 196 334.9 197.2C333.9 198.5 332.8 199.8 331.6 201C330.5 202.2 329.4 203.5 328.2 204.7C327.1 205.9 325.9 207 324.7 208.2C323.5 209.3 322.2 210.4 321 211.5C319.7 212.6 318.4 213.6 317.1 214.6C315.7 215.6 314.4 216.6 313 217.5C311.6 218.4 310.2 219.3 308.8 220.1C307.3 221 305.9 221.8 304.4 222.5C302.9 223.2 301.4 223.9 299.8 224.6C298.3 225.2 296.8 225.8 295.2 226.4C293.6 227 292.1 227.5 290.5 228C288.9 228.5 287.3 229 285.7 229.4C284.1 229.8 282.4 230.2 280.8 230.6C279.2 231 277.6 231.4 275.9 231.7C274.3 232.1 272.7 232.4 271 232.8C269.4 233.1 267.7 233.4 266.1 233.7C264.5 234 262.8 234.4 261.2 234.6C259.5 234.9 257.9 235.2 256.2 235.5C254.6 235.8 252.9 236 251.3 236.3C249.7 236.6 248 236.8 246.4 237.1C244.7 237.4 243.1 237.6 241.4 237.9C239.8 238.2 238.1 238.5 236.5 238.8C234.8 239.1 233.2 239.5 231.6 239.8C229.9 240.2 228.3 240.5 226.7 240.9C225.1 241.3 223.4 241.7 221.8 242.1C220.2 242.5 218.6 242.8 216.9 243.2C215.3 243.6 213.7 244 212.1 244.4C210.4 244.8 208.8 245.1 207.2 245.5C205.5 245.8 203.9 246.2 202.3 246.5C200.6 246.9 199 247.2 197.4 247.5C195.7 247.9 194.1 248.2 192.5 248.5C190.8 248.9 189.2 249.2 187.6 249.5C185.9 249.9 184.3 250.2 182.6 250.5C181 250.8 179.4 251.2 177.7 251.4C176.1 251.7 174.4 252 172.8 252.2C171.1 252.4 169.5 252.6 167.8 252.7C166.2 252.8 164.5 252.9 162.8 252.9C161.2 253 159.5 252.9 157.9 252.8C156.2 252.7 154.6 252.5 153 252.2C151.3 252 149.7 251.6 148.2 251.1C146.7 250.6 145.1 250.1 143.8 249.4C142.4 248.6 141.1 247.8 140 246.8C139 245.9 138 244.7 137.5 243.5C136.9 242.3 136.6 241 136.6 239.7Z" fill="#FE9F91"/>
<path d="M168.7 219.5C168.7 218.6 169.1 217.7 169.8 216.9C170.4 216.2 171.6 215.4 172.8 214.8C174 214.2 175.5 213.7 177 213.3C178.5 213 180.1 212.7 181.7 212.4C183.3 212.2 185 212 186.6 211.8C188.3 211.6 189.9 211.5 191.6 211.3C193.2 211.1 194.9 210.9 196.5 210.6C198.1 210.4 199.7 210.1 201.3 209.8C202.9 209.4 204.5 209 206 208.5C207.6 208 209.1 207.3 210.5 206.6C212 205.9 213.4 205.1 214.8 204.3C216.2 203.4 217.5 202.4 218.8 201.5C220.2 200.5 221.4 199.4 222.7 198.4C224 197.4 225.3 196.3 226.6 195.3C227.8 194.2 229.1 193.2 230.4 192.2C231.7 191.2 233.1 190.2 234.4 189.3C235.8 188.4 237.2 187.5 238.6 186.7C240.1 185.9 241.5 185.2 243 184.6C244.5 183.9 246.1 183.4 247.6 182.9C249.2 182.4 250.8 182 252.4 181.6C254 181.2 255.6 180.9 257.2 180.7C258.8 180.4 260.5 180.2 262.1 180.1C263.7 179.9 265.3 179.8 266.9 179.9C268.4 180 269.9 180.1 271.2 180.5C272.4 180.8 273.6 181.4 274.4 182.1C275.2 182.8 275.7 183.8 275.9 184.8C276 185.8 275.8 187 275.3 188.2C274.9 189.3 274 190.5 273.1 191.7C272.1 192.8 270.9 193.9 269.7 194.8C268.5 195.8 267.1 196.7 265.7 197.5C264.3 198.3 262.8 199 261.3 199.7C259.8 200.3 258.3 200.9 256.7 201.4C255.2 202 253.6 202.4 252 202.9C250.4 203.3 248.8 203.8 247.2 204.2C245.7 204.6 244.1 205 242.5 205.5C240.9 205.9 239.3 206.4 237.7 206.9C236.1 207.4 234.6 207.9 233 208.5C231.5 209 229.9 209.6 228.4 210.3C226.9 210.9 225.4 211.6 224 212.4C222.5 213.1 221 213.9 219.6 214.7C218.2 215.5 216.8 216.4 215.3 217.2C213.9 218 212.5 218.9 211 219.6C209.6 220.3 208.1 221 206.6 221.6C205.1 222.2 203.6 222.7 202 223.1C200.4 223.5 198.8 223.9 197.2 224.1C195.6 224.4 194 224.5 192.3 224.6C190.7 224.8 189 224.8 187.4 224.8C185.7 224.9 184.1 224.9 182.4 224.8C180.8 224.7 179.2 224.6 177.6 224.4C176.1 224.2 174.5 223.9 173.3 223.5C172 223.1 170.8 222.5 170 221.8C169.2 221.1 168.7 220.3 168.7 219.5Z" fill="#FB5F50"/>
</g>
<g stroke="#ffffff" stroke-width="1" opacity="0.22">
<line x1="66" y1="29" x2="66" y2="359"/>
<line x1="172" y1="29" x2="172" y2="359"/>
<line x1="278" y1="29" x2="278" y2="359"/>
<line x1="384" y1="29" x2="384" y2="359"/>
<line x1="490" y1="29" x2="490" y2="359"/>
<line x1="30" y1="94.4" x2="520" y2="94.4"/>
<line x1="30" y1="200.4" x2="520" y2="200.4"/>
<line x1="30" y1="306.4" x2="520" y2="306.4"/>
</g>
<g fill="none" stroke="#111" stroke-width="0.8">
<polygon points="82.5,280 153.6,160.6 184,181 113.6,304.4"/>
<polygon points="133,277.5 223,123.5 254.5,144 164,297.5"/>
<polygon points="183,271.5 283,102 315,122 214.5,293"/>
<polygon points="234,263.5 333.3,97.3 363.6,117.3 265,285"/>
<polygon points="280,265 369,113.3 407,137.2 316.3,287.5"/>
<polygon points="408.8,137 444,155.5 410,212.5 377.2,191.5"/>
</g>
<g font-family="Liberation Serif,serif" font-size="5.6" font-weight="bold" fill="#ff00ff" text-anchor="middle"><text x="74" y="171.2" textLength="2.2" lengthAdjust="spacingAndGlyphs">1</text><circle cx="74" cy="173.6" r="1.25" fill="#ff00ff"/><text x="80.6" y="171.4" textLength="2.2" lengthAdjust="spacingAndGlyphs">2</text><circle cx="80.6" cy="173.8" r="1.25" fill="#ff00ff"/><text x="87.2" y="171.6" textLength="2.2" lengthAdjust="spacingAndGlyphs">3</text><circle cx="87.2" cy="174" r="1.1" fill="none" stroke="#c060d0" stroke-width="0.45"/><text x="93.8" y="171.8" textLength="2.2" lengthAdjust="spacingAndGlyphs">4</text><circle cx="93.8" cy="174.2" r="1.1" fill="none" stroke="#c060d0" stroke-width="0.45"/><text x="100.4" y="172.1" textLength="2.2" lengthAdjust="spacingAndGlyphs">5</text><circle cx="100.4" cy="174.5" r="1.1" fill="none" stroke="#c060d0" stroke-width="0.45"/><text x="107" y="172.3" textLength="2.2" lengthAdjust="spacingAndGlyphs">6</text><circle cx="107" cy="174.7" r="1.1" fill="none" stroke="#c060d0" stroke-width="0.45"/><text x="113.6" y="172.5" textLength="2.2" lengthAdjust="spacingAndGlyphs">7</text><circle cx="113.6" cy="174.9" r="1.1" fill="none" stroke="#c060d0" stroke-width="0.45"/><text x="120.2" y="172.7" textLength="2.2" lengthAdjust="spacingAndGlyphs">8</text><circle cx="120.2" cy="175.1" r="1.1" fill="none" stroke="#c060d0" stroke-width="0.45"/><text x="126.8" y="172.9" textLength="2.2" lengthAdjust="spacingAndGlyphs">9</text><circle cx="126.8" cy="175.3" r="1.25" fill="#ff00ff"/><text x="133.4" y="172.9" textLength="4.4" lengthAdjust="spacingAndGlyphs">10</text><circle cx="133.4" cy="175.3" r="1.1" fill="none" stroke="#c060d0" stroke-width="0.45"/><text x="140" y="173" textLength="4.4" lengthAdjust="spacingAndGlyphs">11</text><circle cx="140" cy="175.4" r="1.25" fill="#ff00ff"/><text x="146.6" y="173" textLength="4.4" lengthAdjust="spacingAndGlyphs">12</text><circle cx="146.6" cy="175.4" r="1.25" fill="#ff00ff"/><text x="153.2" y="173" textLength="4.4" lengthAdjust="spacingAndGlyphs">13</text><circle cx="153.2" cy="175.4" r="1.1" fill="none" stroke="#c060d0" stroke-width="0.45"/><text x="159.8" y="173.1" textLength="4.4" lengthAdjust="spacingAndGlyphs">14</text><circle cx="159.8" cy="175.5" r="1.1" fill="none" stroke="#c060d0" stroke-width="0.45"/><text x="166.4" y="173.1" textLength="4.4" lengthAdjust="spacingAndGlyphs">15</text><circle cx="166.4" cy="175.5" r="1.25" fill="#ff00ff"/><text x="173" y="173.1" textLength="4.4" lengthAdjust="spacingAndGlyphs">16</text><circle cx="173" cy="175.5" r="1.1" fill="none" stroke="#c060d0" stroke-width="0.45"/><text x="179.6" y="173.2" textLength="4.4" lengthAdjust="spacingAndGlyphs">17</text><circle cx="179.6" cy="175.6" r="1.1" fill="none" stroke="#c060d0" stroke-width="0.45"/><text x="186.3" y="173.3" textLength="4.4" lengthAdjust="spacingAndGlyphs">18</text><circle cx="186.3" cy="175.7" r="1.25" fill="#ff00ff"/><text x="192.9" y="173.5" textLength="4.4" lengthAdjust="spacingAndGlyphs">19</text><circle cx="192.9" cy="175.9" r="1.25" fill="#ff00ff"/><text x="199.5" y="173.7" textLength="4.4" lengthAdjust="spacingAndGlyphs">20</text><circle cx="199.5" cy="176.1" r="1.25" fill="#ff00ff"/><text x="206.1" y="173.9" textLength="4.4" lengthAdjust="spacingAndGlyphs">21</text><circle cx="206.1" cy="176.3" r="1.1" fill="none" stroke="#c060d0" stroke-width="0.45"/><text x="212.7" y="174.1" textLength="4.4" lengthAdjust="spacingAndGlyphs">22</text><circle cx="212.7" cy="176.5" r="1.1" fill="none" stroke="#c060d0" stroke-width="0.45"/><text x="219.3" y="174.3" textLength="4.4" lengthAdjust="spacingAndGlyphs">23</text><circle cx="219.3" cy="176.7" r="1.25" fill="#ff00ff"/><text x="225.9" y="174.5" textLength="4.4" lengthAdjust="spacingAndGlyphs">24</text><circle cx="225.9" cy="176.9" r="1.1" fill="none" stroke="#c060d0" stroke-width="0.45"/><text x="232.5" y="174.7" textLength="4.4" lengthAdjust="spacingAndGlyphs">25</text><circle cx="232.5" cy="177.1" r="1.1" fill="none" stroke="#c060d0" stroke-width="0.45"/><text x="239.1" y="174.9" textLength="4.4" lengthAdjust="spacingAndGlyphs">26</text><circle cx="239.1" cy="177.3" r="1.1" fill="none" stroke="#c060d0" stroke-width="0.45"/><text x="245.7" y="175.1" textLength="4.4" lengthAdjust="spacingAndGlyphs">27</text><circle cx="245.7" cy="177.5" r="1.1" fill="none" stroke="#c060d0" stroke-width="0.45"/><text x="252.3" y="175.3" textLength="4.4" lengthAdjust="spacingAndGlyphs">28</text><circle cx="252.3" cy="177.7" r="1.1" fill="none" stroke="#c060d0" stroke-width="0.45"/><text x="258.9" y="175.5" textLength="4.4" lengthAdjust="spacingAndGlyphs">29</text><circle cx="258.9" cy="177.9" r="1.1" fill="none" stroke="#c060d0" stroke-width="0.45"/><text x="265.5" y="175.7" textLength="4.4" lengthAdjust="spacingAndGlyphs">30</text><circle cx="265.5" cy="178.1" r="1.25" fill="#ff00ff"/><text x="272.1" y="175.9" textLength="4.4" lengthAdjust="spacingAndGlyphs">31</text><circle cx="272.1" cy="178.3" r="1.25" fill="#ff00ff"/><text x="278.7" y="176.3" textLength="4.4" lengthAdjust="spacingAndGlyphs">32</text><circle cx="278.7" cy="178.7" r="1.1" fill="none" stroke="#c060d0" stroke-width="0.45"/><text x="285.3" y="176.7" textLength="4.4" lengthAdjust="spacingAndGlyphs">33</text><circle cx="285.3" cy="179.1" r="1.1" fill="none" stroke="#c060d0" stroke-width="0.45"/><text x="291.9" y="177.1" textLength="4.4" lengthAdjust="spacingAndGlyphs">34</text><circle cx="291.9" cy="179.5" r="1.1" fill="none" stroke="#c060d0" stroke-width="0.45"/><text x="298.5" y="177.5" textLength="4.4" lengthAdjust="spacingAndGlyphs">35</text><circle cx="298.5" cy="179.9" r="1.1" fill="none" stroke="#c060d0" stroke-width="0.45"/><text x="305.1" y="177.9" textLength="4.4" lengthAdjust="spacingAndGlyphs">36</text><circle cx="305.1" cy="180.3" r="1.1" fill="none" stroke="#c060d0" stroke-width="0.45"/><text x="311.7" y="178.3" textLength="4.4" lengthAdjust="spacingAndGlyphs">37</text><circle cx="311.7" cy="180.7" r="1.25" fill="#ff00ff"/><text x="318.3" y="178.7" textLength="4.4" lengthAdjust="spacingAndGlyphs">38</text><circle cx="318.3" cy="181.1" r="1.25" fill="#ff00ff"/><text x="324.9" y="179.1" textLength="4.4" lengthAdjust="spacingAndGlyphs">39</text><circle cx="324.9" cy="181.5" r="1.25" fill="#ff00ff"/><text x="331.5" y="179.4" textLength="4.4" lengthAdjust="spacingAndGlyphs">40</text><circle cx="331.5" cy="181.8" r="1.1" fill="none" stroke="#c060d0" stroke-width="0.45"/><text x="338.1" y="179.7" textLength="4.4" lengthAdjust="spacingAndGlyphs">41</text><circle cx="338.1" cy="182.1" r="1.1" fill="none" stroke="#c060d0" stroke-width="0.45"/><text x="344.7" y="180" textLength="4.4" lengthAdjust="spacingAndGlyphs">42</text><circle cx="344.7" cy="182.4" r="1.1" fill="none" stroke="#c060d0" stroke-width="0.45"/><text x="351.3" y="180.4" textLength="4.4" lengthAdjust="spacingAndGlyphs">43</text><circle cx="351.3" cy="182.8" r="1.1" fill="none" stroke="#c060d0" stroke-width="0.45"/><text x="357.9" y="180.7" textLength="4.4" lengthAdjust="spacingAndGlyphs">44</text><circle cx="357.9" cy="183.1" r="1.1" fill="none" stroke="#c060d0" stroke-width="0.45"/><text x="364.5" y="181" textLength="4.4" lengthAdjust="spacingAndGlyphs">45</text><circle cx="364.5" cy="183.4" r="1.1" fill="none" stroke="#c060d0" stroke-width="0.45"/><text x="371.1" y="181.3" textLength="4.4" lengthAdjust="spacingAndGlyphs">46</text><circle cx="371.1" cy="183.7" r="1.25" fill="#ff00ff"/><text x="377.7" y="181.6" textLength="4.4" lengthAdjust="spacingAndGlyphs">47</text><circle cx="377.7" cy="184" r="1.1" fill="none" stroke="#c060d0" stroke-width="0.45"/><text x="384.3" y="181.9" textLength="4.4" lengthAdjust="spacingAndGlyphs">48</text><circle cx="384.3" cy="184.3" r="1.25" fill="#ff00ff"/><text x="390.9" y="182.3" textLength="4.4" lengthAdjust="spacingAndGlyphs">49</text><circle cx="390.9" cy="184.7" r="1.1" fill="none" stroke="#c060d0" stroke-width="0.45"/><text x="397.5" y="182.6" textLength="4.4" lengthAdjust="spacingAndGlyphs">50</text><circle cx="397.5" cy="185" r="1.1" fill="none" stroke="#c060d0" stroke-width="0.45"/><text x="404.1" y="182.9" textLength="4.4" lengthAdjust="spacingAndGlyphs">51</text><circle cx="404.1" cy="185.3" r="1.1" fill="none" stroke="#c060d0" stroke-width="0.45"/><text x="410.8" y="183.2" textLength="4.4" lengthAdjust="spacingAndGlyphs">52</text><circle cx="410.8" cy="185.6" r="1.1" fill="none" stroke="#c060d0" stroke-width="0.45"/><text x="417.4" y="183.5" textLength="4.4" lengthAdjust="spacingAndGlyphs">53</text><circle cx="417.4" cy="185.9" r="1.25" fill="#ff00ff"/><text x="424" y="183.6" textLength="4.4" lengthAdjust="spacingAndGlyphs">54</text><circle cx="424" cy="186" r="1.1" fill="none" stroke="#c060d0" stroke-width="0.45"/><text x="430.6" y="183.7" textLength="4.4" lengthAdjust="spacingAndGlyphs">55</text><circle cx="430.6" cy="186.1" r="1.25" fill="#ff00ff"/><text x="437.2" y="183.8" textLength="4.4" lengthAdjust="spacingAndGlyphs">56</text><circle cx="437.2" cy="186.2" r="1.1" fill="none" stroke="#c060d0" stroke-width="0.45"/><text x="443.8" y="183.8" textLength="4.4" lengthAdjust="spacingAndGlyphs">57</text><circle cx="443.8" cy="186.2" r="1.25" fill="#ff00ff"/><text x="450.4" y="183.9" textLength="4.4" lengthAdjust="spacingAndGlyphs">58</text><circle cx="450.4" cy="186.3" r="1.1" fill="none" stroke="#c060d0" stroke-width="0.45"/><text x="457" y="184" textLength="4.4" lengthAdjust="spacingAndGlyphs">59</text><circle cx="457" cy="186.4" r="1.1" fill="none" stroke="#c060d0" stroke-width="0.45"/></g>
<g font-family="Liberation Serif,serif" font-size="5.6" font-weight="bold" fill="#0000ff" text-anchor="middle"><text x="49.4" y="226.6" textLength="2.2" lengthAdjust="spacingAndGlyphs">1</text><circle cx="49.4" cy="229" r="1.25" fill="#0000ff"/><text x="55.8" y="226.7" textLength="2.2" lengthAdjust="spacingAndGlyphs">2</text><circle cx="55.8" cy="229.1" r="1.25" fill="#0000ff"/><text x="62.2" y="226.8" textLength="2.2" lengthAdjust="spacingAndGlyphs">3</text><circle cx="62.2" cy="229.2" r="1.1" fill="none" stroke="#5060e0" stroke-width="0.45"/><text x="68.6" y="226.9" textLength="2.2" lengthAdjust="spacingAndGlyphs">4</text><circle cx="68.6" cy="229.3" r="1.25" fill="#0000ff"/><text x="75" y="227.1" textLength="2.2" lengthAdjust="spacingAndGlyphs">5</text><circle cx="75" cy="229.5" r="1.25" fill="#0000ff"/><text x="81.4" y="227.2" textLength="2.2" lengthAdjust="spacingAndGlyphs">6</text><circle cx="81.4" cy="229.6" r="1.1" fill="none" stroke="#5060e0" stroke-width="0.45"/><text x="87.8" y="227.3" textLength="2.2" lengthAdjust="spacingAndGlyphs">7</text><circle cx="87.8" cy="229.7" r="1.1" fill="none" stroke="#5060e0" stroke-width="0.45"/><text x="94.2" y="227.4" textLength="2.2" lengthAdjust="spacingAndGlyphs">8</text><circle cx="94.2" cy="229.8" r="1.1" fill="none" stroke="#5060e0" stroke-width="0.45"/><text x="100.6" y="227.5" textLength="2.2" lengthAdjust="spacingAndGlyphs">9</text><circle cx="100.6" cy="229.9" r="1.1" fill="none" stroke="#5060e0" stroke-width="0.45"/><text x="107" y="227.6" textLength="4.4" lengthAdjust="spacingAndGlyphs">10</text><circle cx="107" cy="230" r="1.25" fill="#0000ff"/><text x="113.4" y="227.8" textLength="4.4" lengthAdjust="spacingAndGlyphs">11</text><circle cx="113.4" cy="230.2" r="1.25" fill="#0000ff"/><text x="119.8" y="227.9" textLength="4.4" lengthAdjust="spacingAndGlyphs">12</text><circle cx="119.8" cy="230.3" r="1.25" fill="#0000ff"/><text x="126.2" y="228" textLength="4.4" lengthAdjust="spacingAndGlyphs">13</text><circle cx="126.2" cy="230.4" r="1.1" fill="none" stroke="#5060e0" stroke-width="0.45"/><text x="132.6" y="228.1" textLength="4.4" lengthAdjust="spacingAndGlyphs">14</text><circle cx="132.6" cy="230.5" r="1.25" fill="#0000ff"/><text x="139" y="228.2" textLength="4.4" lengthAdjust="spacingAndGlyphs">15</text><circle cx="139" cy="230.6" r="1.1" fill="none" stroke="#5060e0" stroke-width="0.45"/><text x="145.4" y="228.3" textLength="4.4" lengthAdjust="spacingAndGlyphs">16</text><circle cx="145.4" cy="230.7" r="1.25" fill="#0000ff"/><text x="151.8" y="228.4" textLength="4.4" lengthAdjust="spacingAndGlyphs">17</text><circle cx="151.8" cy="230.8" r="1.25" fill="#0000ff"/><text x="158.2" y="228.6" textLength="4.4" lengthAdjust="spacingAndGlyphs">18</text><circle cx="158.2" cy="231" r="1.1" fill="none" stroke="#5060e0" stroke-width="0.45"/><text x="164.6" y="228.7" textLength="4.4" lengthAdjust="spacingAndGlyphs">19</text><circle cx="164.6" cy="231.1" r="1.1" fill="none" stroke="#5060e0" stroke-width="0.45"/><text x="171" y="228.8" textLength="4.4" lengthAdjust="spacingAndGlyphs">20</text><circle cx="171" cy="231.2" r="1.1" fill="none" stroke="#5060e0" stroke-width="0.45"/><text x="177.4" y="228.9" textLength="4.4" lengthAdjust="spacingAndGlyphs">21</text><circle cx="177.4" cy="231.3" r="1.1" fill="none" stroke="#5060e0" stroke-width="0.45"/><text x="183.8" y="229" textLength="4.4" lengthAdjust="spacingAndGlyphs">22</text><circle cx="183.8" cy="231.4" r="1.25" fill="#0000ff"/><text x="190.2" y="229.1" textLength="4.4" lengthAdjust="spacingAndGlyphs">23</text><circle cx="190.2" cy="231.5" r="1.1" fill="none" stroke="#5060e0" stroke-width="0.45"/><text x="196.6" y="229.2" textLength="4.4" lengthAdjust="spacingAndGlyphs">24</text><circle cx="196.6" cy="231.6" r="1.1" fill="none" stroke="#5060e0" stroke-width="0.45"/><text x="203" y="229.4" textLength="4.4" lengthAdjust="spacingAndGlyphs">25</text><circle cx="203" cy="231.8" r="1.25" fill="#0000ff"/></g>
<g font-family="Liberation Serif,serif" font-size="5.8" font-weight="bold" fill="#ff0000" text-anchor="middle"><text x="232.4" y="66.2" textLength="2.3" lengthAdjust="spacingAndGlyphs">1</text><circle cx="236.4" cy="64.2" r="1.25" fill="#ff0000"/><text x="233" y="72.5" textLength="2.3" lengthAdjust="spacingAndGlyphs">2</text><circle cx="237" cy="70.5" r="1.1" fill="none" stroke="#d06060" stroke-width="0.45"/><text x="233.3" y="78.8" textLength="2.3" lengthAdjust="spacingAndGlyphs">3</text><circle cx="237.3" cy="76.8" r="1.1" fill="none" stroke="#d06060" stroke-width="0.45"/><text x="235.2" y="85.1" textLength="2.3" lengthAdjust="spacingAndGlyphs">4</text><circle cx="239.2" cy="83.1" r="1.25" fill="#ff0000"/><text x="234.7" y="91.5" textLength="2.3" lengthAdjust="spacingAndGlyphs">5</text><circle cx="238.7" cy="89.5" r="1.25" fill="#ff0000"/><text x="233.7" y="97.8" textLength="2.3" lengthAdjust="spacingAndGlyphs">6</text><circle cx="237.7" cy="95.8" r="1.25" fill="#ff0000"/><text x="232.6" y="104.1" textLength="2.3" lengthAdjust="spacingAndGlyphs">7</text><circle cx="236.6" cy="102.1" r="1.1" fill="none" stroke="#d06060" stroke-width="0.45"/><text x="231.1" y="110.4" textLength="2.3" lengthAdjust="spacingAndGlyphs">8</text><circle cx="235.1" cy="108.4" r="1.25" fill="#ff0000"/><text x="230.3" y="116.7" textLength="2.3" lengthAdjust="spacingAndGlyphs">9</text><circle cx="234.3" cy="114.7" r="1.1" fill="none" stroke="#d06060" stroke-width="0.45"/><text x="228.7" y="123" textLength="4.6" lengthAdjust="spacingAndGlyphs">10</text><circle cx="232.7" cy="121" r="1.1" fill="none" stroke="#d06060" stroke-width="0.45"/><text x="227.2" y="129.4" textLength="4.6" lengthAdjust="spacingAndGlyphs">11</text><circle cx="231.2" cy="127.4" r="1.25" fill="#ff0000"/><text x="226" y="135.7" textLength="4.6" lengthAdjust="spacingAndGlyphs">12</text><circle cx="230" cy="133.7" r="1.25" fill="#ff0000"/><text x="225.1" y="142" textLength="4.6" lengthAdjust="spacingAndGlyphs">13</text><circle cx="229.1" cy="140" r="1.1" fill="none" stroke="#d06060" stroke-width="0.45"/><text x="224.1" y="148.3" textLength="4.6" lengthAdjust="spacingAndGlyphs">14</text><circle cx="228.1" cy="146.3" r="1.1" fill="none" stroke="#d06060" stroke-width="0.45"/><text x="222.7" y="154.6" textLength="4.6" lengthAdjust="spacingAndGlyphs">15</text><circle cx="226.7" cy="152.6" r="1.25" fill="#ff0000"/><text x="221.5" y="160.9" textLength="4.6" lengthAdjust="spacingAndGlyphs">16</text><circle cx="225.5" cy="158.9" r="1.1" fill="none" stroke="#d06060" stroke-width="0.45"/><text x="220.3" y="167.2" textLength="4.6" lengthAdjust="spacingAndGlyphs">17</text><circle cx="224.3" cy="165.2" r="1.1" fill="none" stroke="#d06060" stroke-width="0.45"/><text x="219.1" y="173.6" textLength="4.6" lengthAdjust="spacingAndGlyphs">18</text><circle cx="223.1" cy="171.6" r="1.25" fill="#ff0000"/><text x="218" y="179.9" textLength="4.6" lengthAdjust="spacingAndGlyphs">19</text><circle cx="222" cy="177.9" r="1.1" fill="none" stroke="#d06060" stroke-width="0.45"/><text x="216.7" y="186.2" textLength="4.6" lengthAdjust="spacingAndGlyphs">20</text><circle cx="220.7" cy="184.2" r="1.1" fill="none" stroke="#d06060" stroke-width="0.45"/><text x="215.2" y="192.5" textLength="4.6" lengthAdjust="spacingAndGlyphs">21</text><circle cx="219.2" cy="190.5" r="1.1" fill="none" stroke="#d06060" stroke-width="0.45"/><text x="213.7" y="198.8" textLength="4.6" lengthAdjust="spacingAndGlyphs">22</text><circle cx="217.7" cy="196.8" r="1.1" fill="none" stroke="#d06060" stroke-width="0.45"/><text x="212.3" y="205.1" textLength="4.6" lengthAdjust="spacingAndGlyphs">23</text><circle cx="216.3" cy="203.1" r="1.1" fill="none" stroke="#d06060" stroke-width="0.45"/><text x="210.8" y="211.5" textLength="4.6" lengthAdjust="spacingAndGlyphs">24</text><circle cx="214.8" cy="209.5" r="1.25" fill="#ff0000"/><text x="209.3" y="217.8" textLength="4.6" lengthAdjust="spacingAndGlyphs">25</text><circle cx="213.3" cy="215.8" r="1.1" fill="none" stroke="#d06060" stroke-width="0.45"/><text x="207.8" y="224.1" textLength="4.6" lengthAdjust="spacingAndGlyphs">26</text><circle cx="211.8" cy="222.1" r="1.1" fill="none" stroke="#d06060" stroke-width="0.45"/><text x="206.3" y="230.4" textLength="4.6" lengthAdjust="spacingAndGlyphs">27</text><circle cx="210.3" cy="228.4" r="1.25" fill="#ff0000"/><text x="204.9" y="236.7" textLength="4.6" lengthAdjust="spacingAndGlyphs">28</text><circle cx="208.9" cy="234.7" r="1.1" fill="none" stroke="#d06060" stroke-width="0.45"/><text x="204.1" y="243" textLength="4.6" lengthAdjust="spacingAndGlyphs">29</text><circle cx="208.1" cy="241" r="1.1" fill="none" stroke="#d06060" stroke-width="0.45"/><text x="203.3" y="249.4" textLength="4.6" lengthAdjust="spacingAndGlyphs">30</text><circle cx="207.3" cy="247.4" r="1.1" fill="none" stroke="#d06060" stroke-width="0.45"/><text x="202.5" y="255.7" textLength="4.6" lengthAdjust="spacingAndGlyphs">31</text><circle cx="206.5" cy="253.7" r="1.1" fill="none" stroke="#d06060" stroke-width="0.45"/><text x="201.7" y="262" textLength="4.6" lengthAdjust="spacingAndGlyphs">32</text><circle cx="205.7" cy="260" r="1.1" fill="none" stroke="#d06060" stroke-width="0.45"/><text x="200.8" y="268.3" textLength="4.6" lengthAdjust="spacingAndGlyphs">33</text><circle cx="204.8" cy="266.3" r="1.25" fill="#ff0000"/><text x="199.4" y="274.6" textLength="4.6" lengthAdjust="spacingAndGlyphs">34</text><circle cx="203.4" cy="272.6" r="1.1" fill="none" stroke="#d06060" stroke-width="0.45"/><text x="198.1" y="280.9" textLength="4.6" lengthAdjust="spacingAndGlyphs">35</text><circle cx="202.1" cy="278.9" r="1.1" fill="none" stroke="#d06060" stroke-width="0.45"/><text x="196.8" y="287.2" textLength="4.6" lengthAdjust="spacingAndGlyphs">36</text><circle cx="200.8" cy="285.2" r="1.25" fill="#ff0000"/><text x="195.6" y="293.6" textLength="4.6" lengthAdjust="spacingAndGlyphs">37</text><circle cx="199.6" cy="291.6" r="1.1" fill="none" stroke="#d06060" stroke-width="0.45"/><text x="194.4" y="299.9" textLength="4.6" lengthAdjust="spacingAndGlyphs">38</text><circle cx="198.4" cy="297.9" r="1.1" fill="none" stroke="#d06060" stroke-width="0.45"/><text x="193.1" y="306.2" textLength="4.6" lengthAdjust="spacingAndGlyphs">39</text><circle cx="197.1" cy="304.2" r="1.25" fill="#ff0000"/><text x="191.8" y="312.5" textLength="4.6" lengthAdjust="spacingAndGlyphs">40</text><circle cx="195.8" cy="310.5" r="1.1" fill="none" stroke="#d06060" stroke-width="0.45"/><text x="190.5" y="318.8" textLength="4.6" lengthAdjust="spacingAndGlyphs">41</text><circle cx="194.5" cy="316.8" r="1.25" fill="#ff0000"/><text x="189.2" y="325.1" textLength="4.6" lengthAdjust="spacingAndGlyphs">42</text><circle cx="193.2" cy="323.1" r="1.25" fill="#ff0000"/><text x="187.9" y="331.5" textLength="4.6" lengthAdjust="spacingAndGlyphs">43</text><circle cx="191.9" cy="329.5" r="1.1" fill="none" stroke="#d06060" stroke-width="0.45"/><text x="186.6" y="337.8" textLength="4.6" lengthAdjust="spacingAndGlyphs">44</text><circle cx="190.6" cy="335.8" r="1.1" fill="none" stroke="#d06060" stroke-width="0.45"/><text x="185.3" y="344.1" textLength="4.6" lengthAdjust="spacingAndGlyphs">45</text><circle cx="189.3" cy="342.1" r="1.25" fill="#ff0000"/><text x="184" y="350.4" textLength="4.6" lengthAdjust="spacingAndGlyphs">46</text><circle cx="188" cy="348.4" r="1.1" fill="none" stroke="#d06060" stroke-width="0.45"/></g>
<text class="s" x="236" y="60.6" font-size="15" fill="#ff0000" text-anchor="middle" textLength="6" lengthAdjust="spacingAndGlyphs" font-weight="bold">A</text>
<text class="s" x="67" y="177" font-size="15" fill="#ff00ff" text-anchor="middle" textLength="6.5" lengthAdjust="spacingAndGlyphs">B</text>
<text class="s" x="43.5" y="233" font-size="15" fill="#0000ff" text-anchor="middle" textLength="7" lengthAdjust="spacingAndGlyphs">C</text>
<text class="s" x="136.2" y="210.9" font-size="15" fill="#000" textLength="21.4" lengthAdjust="spacingAndGlyphs" stroke="#000" stroke-width="0.25">1301</text>
<text class="s" x="180.5" y="210.9" font-size="15" fill="#000" textLength="22.4" lengthAdjust="spacingAndGlyphs" stroke="#000" stroke-width="0.25">1302</text>
<text class="s" x="235" y="210.5" font-size="15" fill="#000" textLength="22" lengthAdjust="spacingAndGlyphs" stroke="#000" stroke-width="0.25">1303</text>
<text class="s" x="279.5" y="209.5" font-size="15" fill="#000" textLength="23" lengthAdjust="spacingAndGlyphs" stroke="#000" stroke-width="0.25">1304</text>
<text class="s" x="327.5" y="209.5" font-size="15" fill="#000" textLength="23.5" lengthAdjust="spacingAndGlyphs" stroke="#000" stroke-width="0.25">1305</text>
<text class="s" x="398.5" y="176" font-size="15" fill="#000" textLength="23" lengthAdjust="spacingAndGlyphs" stroke="#000" stroke-width="0.25">1308</text>
<text class="s" x="124.8" y="222" font-size="10" fill="#000" textLength="34.8" lengthAdjust="spacingAndGlyphs">2007.5.12</text>
<text class="s" x="170.3" y="222" font-size="10" fill="#000" textLength="38.5" lengthAdjust="spacingAndGlyphs">2014.11.18</text>
<text class="s" x="219" y="222.6" font-size="10" fill="#000" textLength="31" lengthAdjust="spacingAndGlyphs">2008.5.2</text>
<text class="s" x="265.6" y="223" font-size="10" fill="#000" textLength="35.4" lengthAdjust="spacingAndGlyphs">2013.8.25</text>
<text class="s" x="312" y="223.5" font-size="10" fill="#000" textLength="31" lengthAdjust="spacingAndGlyphs">2009.6.7</text>
<text class="s" x="391" y="183.5" font-size="10" fill="#000" textLength="35" lengthAdjust="spacingAndGlyphs">2015.5.16</text>
<g stroke="#222" stroke-width="0.8" fill="#222">
<line x1="67" y1="118.4" x2="90" y2="92"/><line x1="90.4" y1="116" x2="66.4" y2="95.4"/>
<polygon stroke="none" points="90,92 87.9,96.8 85.5,94.7"/>
<polygon stroke="none" points="66.4,95.4 71.2,97.4 69.2,99.9"/>
</g>
<text class="s" font-size="11.5" transform="translate(40,119.5) rotate(-48)" textLength="60" lengthAdjust="spacingAndGlyphs">Dip direction</text>
<text class="s" font-size="11.5" transform="translate(94.5,93) rotate(-48)" textLength="66" lengthAdjust="spacingAndGlyphs">Strike direction</text>
<text class="s" x="498" y="46.9" font-size="13" fill="#000" text-anchor="middle" textLength="25" lengthAdjust="spacingAndGlyphs">North</text>
<g stroke="#222" fill="none" stroke-width="0.7">
<circle cx="496.3" cy="77" r="8.2" stroke="#555" stroke-width="1"/><circle cx="496.3" cy="77" r="6.5" stroke="#888" stroke-width="0.6"/>
<path d="M496.3 49.2L500.6 95L496.3 82.5Z" fill="#fff"/>
<path d="M496.3 49.2L492 95L496.3 82.5Z" fill="#111"/>
</g>
<rect x="397" y="305.2" width="117" height="47" fill="#e2e2e2" stroke="#888" stroke-width="1"/>
<text class="s" x="399.7" y="314.5" font-size="10.5" fill="#000" textLength="15.7" lengthAdjust="spacingAndGlyphs" stroke="#000" stroke-width="0.15">1305</text>
<text class="m" x="437.1" y="314.5" font-size="10.5" fill="#000" textLength="74.7" lengthAdjust="spacingAndGlyphs" stroke="#000" stroke-width="0.15">Working face number</text>
<text class="s" x="399.7" y="327.3" font-size="10.5" fill="#000" textLength="31.4" lengthAdjust="spacingAndGlyphs" stroke="#000" stroke-width="0.15">2009.6.7</text>
<text class="m" x="437.1" y="327.3" font-size="10.5" fill="#000" textLength="62.9" lengthAdjust="spacingAndGlyphs" stroke="#000" stroke-width="0.15">Terminating date</text>
<text class="m" x="437.1" y="340" font-size="10.5" fill="#000" textLength="62.9" lengthAdjust="spacingAndGlyphs" stroke="#000" stroke-width="0.15">Available points</text>
<text class="m" x="437.1" y="350.5" font-size="10.5" fill="#000" textLength="70.7" lengthAdjust="spacingAndGlyphs" stroke="#000" stroke-width="0.15">Unavailable points</text>
<circle cx="400.7" cy="336.5" r="1.2" fill="#ff0000"/>
<circle cx="400.7" cy="348" r="1.2" fill="none" stroke="#e87070" stroke-width="0.6"/>
<circle cx="408.6" cy="336.5" r="1.2" fill="#ff00ff"/>
<circle cx="408.6" cy="348" r="1.2" fill="none" stroke="#e070e0" stroke-width="0.6"/>
<circle cx="416.7" cy="336.5" r="1.2" fill="#0000ff"/>
<circle cx="416.7" cy="348" r="1.2" fill="none" stroke="#7070e8" stroke-width="0.6"/>
<rect x="29.7" y="28.6" width="490.6" height="330.4" fill="none" stroke="#7a7a7a" stroke-width="1"/>
<text class="s" x="61.6" y="24.8" font-size="10" fill="#000" text-anchor="middle" textLength="24" lengthAdjust="spacingAndGlyphs" stroke="#000" stroke-width="0.3">439000</text>
<text class="s" x="61.6" y="370.8" font-size="10" fill="#000" text-anchor="middle" textLength="24" lengthAdjust="spacingAndGlyphs" stroke="#000" stroke-width="0.3">439000</text>
<text class="s" x="167.6" y="24.8" font-size="10" fill="#000" text-anchor="middle" textLength="24" lengthAdjust="spacingAndGlyphs" stroke="#000" stroke-width="0.3">439500</text>
<text class="s" x="167.6" y="370.8" font-size="10" fill="#000" text-anchor="middle" textLength="24" lengthAdjust="spacingAndGlyphs" stroke="#000" stroke-width="0.3">439500</text>
<text class="s" x="273.6" y="24.8" font-size="10" fill="#000" text-anchor="middle" textLength="24" lengthAdjust="spacingAndGlyphs" stroke="#000" stroke-width="0.3">440000</text>
<text class="s" x="273.6" y="370.8" font-size="10" fill="#000" text-anchor="middle" textLength="24" lengthAdjust="spacingAndGlyphs" stroke="#000" stroke-width="0.3">440000</text>
<text class="s" x="379.6" y="24.8" font-size="10" fill="#000" text-anchor="middle" textLength="24" lengthAdjust="spacingAndGlyphs" stroke="#000" stroke-width="0.3">440500</text>
<text class="s" x="379.6" y="370.8" font-size="10" fill="#000" text-anchor="middle" textLength="24" lengthAdjust="spacingAndGlyphs" stroke="#000" stroke-width="0.3">440500</text>
<text class="s" x="485.6" y="24.8" font-size="10" fill="#000" text-anchor="middle" textLength="24" lengthAdjust="spacingAndGlyphs" stroke="#000" stroke-width="0.3">441000</text>
<text class="s" x="485.6" y="370.8" font-size="10" fill="#000" text-anchor="middle" textLength="24" lengthAdjust="spacingAndGlyphs" stroke="#000" stroke-width="0.3">441000</text>
<text class="s" font-size="10.5" text-anchor="middle" transform="translate(26,95.2) rotate(-90)" textLength="28.5" lengthAdjust="spacingAndGlyphs" stroke="#000" stroke-width="0.3">3961500</text>
<text class="s" font-size="10.5" text-anchor="middle" transform="translate(531,95.2) rotate(-90)" textLength="28.5" lengthAdjust="spacingAndGlyphs" stroke="#000" stroke-width="0.3">3961500</text>
<text class="s" font-size="10.5" text-anchor="middle" transform="translate(26,201.2) rotate(-90)" textLength="28.5" lengthAdjust="spacingAndGlyphs" stroke="#000" stroke-width="0.3">3961000</text>
<text class="s" font-size="10.5" text-anchor="middle" transform="translate(531,201.2) rotate(-90)" textLength="28.5" lengthAdjust="spacingAndGlyphs" stroke="#000" stroke-width="0.3">3961000</text>
<text class="s" font-size="10.5" text-anchor="middle" transform="translate(26,307.2) rotate(-90)" textLength="28.5" lengthAdjust="spacingAndGlyphs" stroke="#000" stroke-width="0.3">3960950</text>
<text class="s" font-size="10.5" text-anchor="middle" transform="translate(531,307.2) rotate(-90)" textLength="28.5" lengthAdjust="spacingAndGlyphs" stroke="#000" stroke-width="0.3">3960950</text>
<rect x="87.3" y="391.9" width="31.8" height="23.1" fill="#63D7AB"/>
<rect x="118.8" y="391.9" width="31.8" height="23.1" fill="#05C08A"/>
<rect x="150.3" y="391.9" width="31.8" height="23.1" fill="#078C5B"/>
<rect x="181.8" y="391.9" width="31.8" height="23.1" fill="#92D5F1"/>
<rect x="213.3" y="391.9" width="31.8" height="23.1" fill="#1DA5E8"/>
<rect x="244.8" y="391.9" width="31.8" height="23.1" fill="#0458AF"/>
<rect x="276.3" y="391.9" width="31.8" height="23.1" fill="#FCF398"/>
<rect x="307.8" y="391.9" width="31.8" height="23.1" fill="#F8E858"/>
<rect x="339.3" y="391.9" width="31.8" height="23.1" fill="#D9B900"/>
<rect x="370.8" y="391.9" width="31.8" height="23.1" fill="#FEC7B8"/>
<rect x="402.3" y="391.9" width="31.8" height="23.1" fill="#FE9F91"/>
<rect x="433.8" y="391.9" width="31.8" height="23.1" fill="#FB5F50"/>
<text class="s" x="85.7" y="424.3" font-size="10" fill="#000" text-anchor="middle" textLength="6.4" lengthAdjust="spacingAndGlyphs" stroke="#000" stroke-width="0.3">-1</text>
<text class="s" x="117.2" y="424.3" font-size="10" fill="#000" text-anchor="middle" textLength="11.5" lengthAdjust="spacingAndGlyphs" stroke="#000" stroke-width="0.3">-50</text>
<text class="s" x="148.7" y="424.3" font-size="10" fill="#000" text-anchor="middle" textLength="15.2" lengthAdjust="spacingAndGlyphs" stroke="#000" stroke-width="0.3">-100</text>
<text class="s" x="180.2" y="424.3" font-size="10" fill="#000" text-anchor="middle" textLength="15.2" lengthAdjust="spacingAndGlyphs" stroke="#000" stroke-width="0.3">-150</text>
<text class="s" x="211.7" y="424.3" font-size="10" fill="#000" text-anchor="middle" textLength="15.2" lengthAdjust="spacingAndGlyphs" stroke="#000" stroke-width="0.3">-200</text>
<text class="s" x="243.2" y="424.3" font-size="10" fill="#000" text-anchor="middle" textLength="15.2" lengthAdjust="spacingAndGlyphs" stroke="#000" stroke-width="0.3">-250</text>
<text class="s" x="274.7" y="424.3" font-size="10" fill="#000" text-anchor="middle" textLength="15.2" lengthAdjust="spacingAndGlyphs" stroke="#000" stroke-width="0.3">-300</text>
<text class="s" x="306.2" y="424.3" font-size="10" fill="#000" text-anchor="middle" textLength="15.2" lengthAdjust="spacingAndGlyphs" stroke="#000" stroke-width="0.3">-350</text>
<text class="s" x="337.7" y="424.3" font-size="10" fill="#000" text-anchor="middle" textLength="15.2" lengthAdjust="spacingAndGlyphs" stroke="#000" stroke-width="0.3">-400</text>
<text class="s" x="369.2" y="424.3" font-size="10" fill="#000" text-anchor="middle" textLength="15.2" lengthAdjust="spacingAndGlyphs" stroke="#000" stroke-width="0.3">-450</text>
<text class="s" x="400.7" y="424.3" font-size="10" fill="#000" text-anchor="middle" textLength="15.2" lengthAdjust="spacingAndGlyphs" stroke="#000" stroke-width="0.3">-500</text>
<text class="s" x="432.2" y="424.3" font-size="10" fill="#000" text-anchor="middle" textLength="15.2" lengthAdjust="spacingAndGlyphs" stroke="#000" stroke-width="0.3">-550</text>
<text class="s" x="463.7" y="424.3" font-size="10" fill="#000" text-anchor="middle" textLength="15.2" lengthAdjust="spacingAndGlyphs" stroke="#000" stroke-width="0.3">-600</text>
<text class="m" x="227.5" y="440.5" font-size="10.5" fill="#000" textLength="97.2" lengthAdjust="spacingAndGlyphs" stroke="#000" stroke-width="0.15">Predicted Subsidence (cm)</text>
</svg></body></html>
